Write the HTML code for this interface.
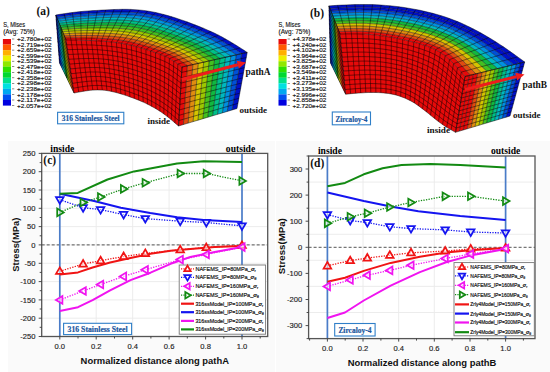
<!DOCTYPE html>
<html><head><meta charset="utf-8"><style>
html,body{margin:0;padding:0;background:#fff;width:550px;height:372px;overflow:hidden}
svg{display:block}
</style></head><body>
<svg width="550" height="372" viewBox="0 0 550 372">
<rect width="550" height="372" fill="#fff"/>
<polygon points="55.8,15 59.9,14.3 64.1,13.7 68.2,13.1 72.4,12.5 76.5,12 80.7,11.6 84.8,11.2 89,10.9 93.2,10.6 97.4,10.4 101.5,10.1 105.7,9.9 109.9,9.7 114.1,9.5 118.2,9.4 122.4,9.3 126.6,9.3 130.8,9.4 135,9.7 139.1,10 143.3,10.4 147.5,11 151.6,11.7 155.7,12.5 159.8,13.5 163.8,14.5 167.8,15.6 171.9,16.8 175.8,18 179.8,19.4 183.8,20.7 187.7,22.1 191.6,23.6 195.5,25.1 199.4,26.6 203.3,28.2 207.2,29.9 211,31.6 214.8,33.3 218.5,35.2 222.2,37.1 225.9,39.2 229.5,41.3 233.1,43.4 236.6,45.6 240.2,47.9 243.7,50.1 247.2,52.4 241.8,53.6 238.4,51.4 235,49.2 231.6,47 228.1,44.9 224.7,42.8 221.2,40.8 217.6,38.8 214,36.9 210.4,35.2 206.7,33.5 203,31.8 199.3,30.3 195.6,28.7 191.8,27.3 188,25.8 184.2,24.4 180.4,23.1 176.6,21.7 172.7,20.5 168.9,19.3 165,18.1 161.1,17.1 157.2,16.1 153.2,15.2 149.3,14.4 145.3,13.7 141.3,13.1 137.3,12.7 133.2,12.4 129.2,12.1 125.1,12 121.1,12 117.1,12 113,12.1 109,12.3 104.9,12.4 100.9,12.7 96.8,12.9 92.8,13.1 88.8,13.4 84.7,13.7 80.7,14 76.7,14.4 72.7,14.8 68.7,15.3 64.6,15.9 60.6,16.5 56.6,17.1" fill="#0010c8"/>
<polygon points="56.6,17.1 60.6,16.5 64.6,15.9 68.7,15.3 72.7,14.8 76.7,14.4 80.7,14 84.7,13.7 88.8,13.4 92.8,13.1 96.8,12.9 100.9,12.7 104.9,12.4 109,12.3 113,12.1 117.1,12 121.1,12 125.1,12 129.2,12.1 133.2,12.4 137.3,12.7 141.3,13.1 145.3,13.7 149.3,14.4 153.2,15.2 157.2,16.1 161.1,17.1 165,18.1 168.9,19.3 172.7,20.5 176.6,21.7 180.4,23.1 184.2,24.4 188,25.8 191.8,27.3 195.6,28.7 199.3,30.3 203,31.8 206.7,33.5 210.4,35.2 214,36.9 217.6,38.8 221.2,40.8 224.7,42.8 228.1,44.9 231.6,47 235,49.2 238.4,51.4 241.8,53.6 236.3,54.8 233.1,52.7 229.8,50.6 226.5,48.4 223.2,46.4 219.9,44.3 216.5,42.4 213,40.5 209.6,38.7 206.1,37 202.5,35.4 198.9,33.8 195.3,32.3 191.7,30.8 188.1,29.4 184.4,28 180.7,26.7 177.1,25.4 173.4,24.1 169.7,22.9 165.9,21.8 162.2,20.7 158.4,19.6 154.6,18.7 150.8,17.8 147,17.1 143.1,16.4 139.2,15.8 135.4,15.4 131.5,15.1 127.6,14.9 123.7,14.7 119.8,14.7 115.9,14.7 111.9,14.7 108,14.9 104.1,15 100.2,15.2 96.3,15.4 92.4,15.6 88.5,15.8 84.6,16.1 80.7,16.4 76.9,16.7 73,17.1 69.1,17.6 65.2,18.1 61.4,18.6 57.5,19.2" fill="#0050d8"/>
<polygon points="57.5,19.2 61.4,18.6 65.2,18.1 69.1,17.6 73,17.1 76.9,16.7 80.7,16.4 84.6,16.1 88.5,15.8 92.4,15.6 96.3,15.4 100.2,15.2 104.1,15 108,14.9 111.9,14.7 115.9,14.7 119.8,14.7 123.7,14.7 127.6,14.9 131.5,15.1 135.4,15.4 139.2,15.8 143.1,16.4 147,17.1 150.8,17.8 154.6,18.7 158.4,19.6 162.2,20.7 165.9,21.8 169.7,22.9 173.4,24.1 177.1,25.4 180.7,26.7 184.4,28 188.1,29.4 191.7,30.8 195.3,32.3 198.9,33.8 202.5,35.4 206.1,37 209.6,38.7 213,40.5 216.5,42.4 219.9,44.3 223.2,46.4 226.5,48.4 229.8,50.6 233.1,52.7 236.3,54.8 230.9,56 227.8,54 224.6,51.9 221.4,49.9 218.3,47.8 215,45.9 211.8,44 208.5,42.2 205.1,40.5 201.7,38.8 198.3,37.3 194.8,35.8 191.3,34.3 187.8,32.9 184.3,31.6 180.8,30.3 177.3,29 173.7,27.7 170.1,26.5 166.6,25.3 162.9,24.2 159.3,23.2 155.7,22.2 152,21.3 148.4,20.5 144.7,19.7 140.9,19.1 137.2,18.6 133.5,18.1 129.7,17.8 126,17.6 122.2,17.4 118.4,17.3 114.7,17.3 110.9,17.4 107.1,17.5 103.4,17.6 99.6,17.7 95.8,17.9 92.1,18.1 88.3,18.3 84.5,18.5 80.8,18.8 77,19.1 73.3,19.4 69.5,19.8 65.8,20.3 62.1,20.8 58.3,21.2" fill="#0090e0"/>
<polygon points="58.3,21.2 62.1,20.8 65.8,20.3 69.5,19.8 73.3,19.4 77,19.1 80.8,18.8 84.5,18.5 88.3,18.3 92.1,18.1 95.8,17.9 99.6,17.7 103.4,17.6 107.1,17.5 110.9,17.4 114.7,17.3 118.4,17.3 122.2,17.4 126,17.6 129.7,17.8 133.5,18.1 137.2,18.6 140.9,19.1 144.7,19.7 148.4,20.5 152,21.3 155.7,22.2 159.3,23.2 162.9,24.2 166.6,25.3 170.1,26.5 173.7,27.7 177.3,29 180.8,30.3 184.3,31.6 187.8,32.9 191.3,34.3 194.8,35.8 198.3,37.3 201.7,38.8 205.1,40.5 208.5,42.2 211.8,44 215,45.9 218.3,47.8 221.4,49.9 224.6,51.9 227.8,54 230.9,56 225.5,57.3 222.4,55.2 219.4,53.2 216.4,51.3 213.3,49.3 210.2,47.4 207.1,45.6 203.9,43.9 200.6,42.2 197.4,40.7 194.1,39.2 190.7,37.7 187.4,36.4 184,35 180.6,33.7 177.2,32.5 173.8,31.2 170.4,30 166.9,28.9 163.5,27.8 160,26.7 156.5,25.7 153,24.8 149.5,23.9 145.9,23.1 142.4,22.4 138.8,21.8 135.2,21.3 131.6,20.8 128,20.5 124.3,20.3 120.7,20.1 117.1,20 113.5,20 109.8,20 106.2,20.1 102.6,20.2 98.9,20.3 95.3,20.4 91.7,20.6 88.1,20.7 84.5,20.9 80.8,21.2 77.2,21.4 73.6,21.7 70,22.1 66.4,22.5 62.8,22.9 59.2,23.3" fill="#00b8c0"/>
<polygon points="59.2,23.3 62.8,22.9 66.4,22.5 70,22.1 73.6,21.7 77.2,21.4 80.8,21.2 84.5,20.9 88.1,20.7 91.7,20.6 95.3,20.4 98.9,20.3 102.6,20.2 106.2,20.1 109.8,20 113.5,20 117.1,20 120.7,20.1 124.3,20.3 128,20.5 131.6,20.8 135.2,21.3 138.8,21.8 142.4,22.4 145.9,23.1 149.5,23.9 153,24.8 156.5,25.7 160,26.7 163.5,27.8 166.9,28.9 170.4,30 173.8,31.2 177.2,32.5 180.6,33.7 184,35 187.4,36.4 190.7,37.7 194.1,39.2 197.4,40.7 200.6,42.2 203.9,43.9 207.1,45.6 210.2,47.4 213.3,49.3 216.4,51.3 219.4,53.2 222.4,55.2 225.5,57.3 220,58.5 217.1,56.5 214.2,54.6 211.3,52.7 208.4,50.8 205.4,49 202.4,47.2 199.3,45.6 196.2,44 193,42.5 189.8,41.1 186.6,39.7 183.4,38.4 180.1,37.1 176.9,35.9 173.6,34.7 170.3,33.5 167,32.4 163.7,31.3 160.4,30.2 157,29.2 153.7,28.2 150.3,27.3 146.9,26.5 143.5,25.7 140,25.1 136.6,24.5 133.1,24 129.7,23.6 126.2,23.2 122.7,23 119.2,22.8 115.7,22.7 112.3,22.7 108.8,22.6 105.3,22.7 101.8,22.7 98.3,22.8 94.8,22.9 91.3,23.1 87.8,23.2 84.4,23.3 80.9,23.5 77.4,23.8 73.9,24 70.4,24.3 67,24.7 63.5,25 60,25.4" fill="#00c088"/>
<polygon points="60,25.4 63.5,25 67,24.7 70.4,24.3 73.9,24 77.4,23.8 80.9,23.5 84.4,23.3 87.8,23.2 91.3,23.1 94.8,22.9 98.3,22.8 101.8,22.7 105.3,22.7 108.8,22.6 112.3,22.7 115.7,22.7 119.2,22.8 122.7,23 126.2,23.2 129.7,23.6 133.1,24 136.6,24.5 140,25.1 143.5,25.7 146.9,26.5 150.3,27.3 153.7,28.2 157,29.2 160.4,30.2 163.7,31.3 167,32.4 170.3,33.5 173.6,34.7 176.9,35.9 180.1,37.1 183.4,38.4 186.6,39.7 189.8,41.1 193,42.5 196.2,44 199.3,45.6 202.4,47.2 205.4,49 208.4,50.8 211.3,52.7 214.2,54.6 217.1,56.5 220,58.5 214.6,59.7 211.8,57.8 209.1,55.9 206.3,54.1 203.4,52.3 200.6,50.5 197.7,48.8 194.7,47.3 191.7,45.7 188.7,44.3 185.6,43 182.5,41.7 179.4,40.4 176.3,39.2 173.1,38.1 170,36.9 166.8,35.8 163.6,34.7 160.5,33.6 157.3,32.6 154,31.7 150.8,30.8 147.6,29.9 144.3,29.1 141,28.4 137.7,27.7 134.4,27.2 131.1,26.7 127.8,26.3 124.4,26 121.1,25.7 117.8,25.5 114.4,25.4 111.1,25.3 107.7,25.3 104.4,25.3 101,25.3 97.7,25.4 94.3,25.5 91,25.5 87.6,25.6 84.3,25.8 80.9,25.9 77.6,26.1 74.2,26.3 70.9,26.6 67.6,26.9 64.2,27.2 60.9,27.5" fill="#10b840"/>
<polygon points="60.9,27.5 64.2,27.2 67.6,26.9 70.9,26.6 74.2,26.3 77.6,26.1 80.9,25.9 84.3,25.8 87.6,25.6 91,25.5 94.3,25.5 97.7,25.4 101,25.3 104.4,25.3 107.7,25.3 111.1,25.3 114.4,25.4 117.8,25.5 121.1,25.7 124.4,26 127.8,26.3 131.1,26.7 134.4,27.2 137.7,27.7 141,28.4 144.3,29.1 147.6,29.9 150.8,30.8 154,31.7 157.3,32.6 160.5,33.6 163.6,34.7 166.8,35.8 170,36.9 173.1,38.1 176.3,39.2 179.4,40.4 182.5,41.7 185.6,43 188.7,44.3 191.7,45.7 194.7,47.3 197.7,48.8 200.6,50.5 203.4,52.3 206.3,54.1 209.1,55.9 211.8,57.8 214.6,59.7 209.2,60.9 206.5,59.1 203.9,57.3 201.2,55.5 198.5,53.7 195.7,52.1 193,50.5 190.1,48.9 187.2,47.5 184.3,46.2 181.4,44.9 178.4,43.7 175.4,42.5 172.4,41.3 169.4,40.2 166.4,39.1 163.3,38.1 160.3,37 157.2,36 154.2,35.1 151.1,34.2 148,33.3 144.9,32.5 141.7,31.7 138.6,31 135.4,30.4 132.3,29.9 129.1,29.4 125.9,29 122.7,28.7 119.5,28.4 116.3,28.2 113.1,28.1 109.9,28 106.6,27.9 103.4,27.9 100.2,27.9 97,27.9 93.8,28 90.6,28 87.4,28.1 84.2,28.2 81,28.3 77.7,28.5 74.5,28.6 71.3,28.8 68.1,29.1 64.9,29.3 61.8,29.6" fill="#44c020"/>
<polygon points="61.8,29.6 64.9,29.3 68.1,29.1 71.3,28.8 74.5,28.6 77.7,28.5 81,28.3 84.2,28.2 87.4,28.1 90.6,28 93.8,28 97,27.9 100.2,27.9 103.4,27.9 106.6,27.9 109.9,28 113.1,28.1 116.3,28.2 119.5,28.4 122.7,28.7 125.9,29 129.1,29.4 132.3,29.9 135.4,30.4 138.6,31 141.7,31.7 144.9,32.5 148,33.3 151.1,34.2 154.2,35.1 157.2,36 160.3,37 163.3,38.1 166.4,39.1 169.4,40.2 172.4,41.3 175.4,42.5 178.4,43.7 181.4,44.9 184.3,46.2 187.2,47.5 190.1,48.9 193,50.5 195.7,52.1 198.5,53.7 201.2,55.5 203.9,57.3 206.5,59.1 209.2,60.9 203.7,62.1 201.2,60.4 198.7,58.6 196.1,56.9 193.5,55.2 190.9,53.6 188.3,52.1 185.5,50.6 182.8,49.3 180,48 177.1,46.8 174.3,45.6 171.4,44.5 168.5,43.4 165.7,42.4 162.8,41.3 159.8,40.3 156.9,39.4 154,38.4 151.1,37.5 148.1,36.6 145.1,35.8 142.2,35 139.2,34.3 136.2,33.7 133.1,33.1 130.1,32.6 127.1,32.1 124,31.7 120.9,31.4 117.9,31.1 114.8,30.9 111.7,30.8 108.7,30.6 105.6,30.6 102.5,30.5 99.4,30.5 96.4,30.5 93.3,30.5 90.2,30.5 87.1,30.6 84.1,30.6 81,30.7 77.9,30.8 74.9,30.9 71.8,31.1 68.7,31.3 65.7,31.5 62.6,31.7" fill="#9cc800"/>
<polygon points="62.6,31.7 65.7,31.5 68.7,31.3 71.8,31.1 74.9,30.9 77.9,30.8 81,30.7 84.1,30.6 87.1,30.6 90.2,30.5 93.3,30.5 96.4,30.5 99.4,30.5 102.5,30.5 105.6,30.6 108.7,30.6 111.7,30.8 114.8,30.9 117.9,31.1 120.9,31.4 124,31.7 127.1,32.1 130.1,32.6 133.1,33.1 136.2,33.7 139.2,34.3 142.2,35 145.1,35.8 148.1,36.6 151.1,37.5 154,38.4 156.9,39.4 159.8,40.3 162.8,41.3 165.7,42.4 168.5,43.4 171.4,44.5 174.3,45.6 177.1,46.8 180,48 182.8,49.3 185.5,50.6 188.3,52.1 190.9,53.6 193.5,55.2 196.1,56.9 198.7,58.6 201.2,60.4 203.7,62.1 198.3,63.3 195.9,61.7 193.5,60 191.1,58.3 188.6,56.7 186.1,55.2 183.6,53.7 181,52.3 178.3,51 175.6,49.8 172.9,48.7 170.2,47.6 167.4,46.6 164.7,45.5 161.9,44.5 159.1,43.6 156.4,42.6 153.6,41.7 150.8,40.8 148,39.9 145.1,39.1 142.3,38.3 139.5,37.6 136.6,36.9 133.7,36.3 130.8,35.7 127.9,35.2 125,34.8 122.1,34.4 119.2,34.1 116.3,33.8 113.3,33.6 110.4,33.4 107.5,33.3 104.5,33.2 101.6,33.1 98.7,33.1 95.7,33 92.8,33 89.8,33 86.9,33 84,33 81,33.1 78.1,33.1 75.2,33.2 72.2,33.3 69.3,33.5 66.4,33.6 63.5,33.8" fill="#d4c400"/>
<polygon points="63.5,33.8 66.4,33.6 69.3,33.5 72.2,33.3 75.2,33.2 78.1,33.1 81,33.1 84,33 86.9,33 89.8,33 92.8,33 95.7,33 98.7,33.1 101.6,33.1 104.5,33.2 107.5,33.3 110.4,33.4 113.3,33.6 116.3,33.8 119.2,34.1 122.1,34.4 125,34.8 127.9,35.2 130.8,35.7 133.7,36.3 136.6,36.9 139.5,37.6 142.3,38.3 145.1,39.1 148,39.9 150.8,40.8 153.6,41.7 156.4,42.6 159.1,43.6 161.9,44.5 164.7,45.5 167.4,46.6 170.2,47.6 172.9,48.7 175.6,49.8 178.3,51 181,52.3 183.6,53.7 186.1,55.2 188.6,56.7 191.1,58.3 193.5,60 195.9,61.7 198.3,63.3 192.9,64.6 190.6,62.9 188.3,61.3 186,59.7 183.7,58.2 181.3,56.7 178.8,55.3 176.4,54 173.8,52.8 171.3,51.7 168.7,50.6 166.1,49.6 163.5,48.6 160.8,47.6 158.2,46.7 155.5,45.8 152.9,44.9 150.2,44 147.5,43.2 144.9,42.4 142.2,41.6 139.5,40.9 136.7,40.2 134,39.5 131.3,39 128.5,38.4 125.8,37.9 123,37.5 120.2,37.1 117.4,36.8 114.6,36.5 111.9,36.3 109.1,36.1 106.3,36 103.5,35.8 100.7,35.7 97.9,35.6 95.1,35.6 92.3,35.5 89.5,35.5 86.7,35.5 83.9,35.5 81.1,35.5 78.3,35.5 75.5,35.5 72.7,35.6 69.9,35.7 67.1,35.7 64.3,35.8" fill="#e08c10"/>
<polygon points="64.3,35.8 67.1,35.7 69.9,35.7 72.7,35.6 75.5,35.5 78.3,35.5 81.1,35.5 83.9,35.5 86.7,35.5 89.5,35.5 92.3,35.5 95.1,35.6 97.9,35.6 100.7,35.7 103.5,35.8 106.3,36 109.1,36.1 111.9,36.3 114.6,36.5 117.4,36.8 120.2,37.1 123,37.5 125.8,37.9 128.5,38.4 131.3,39 134,39.5 136.7,40.2 139.5,40.9 142.2,41.6 144.9,42.4 147.5,43.2 150.2,44 152.9,44.9 155.5,45.8 158.2,46.7 160.8,47.6 163.5,48.6 166.1,49.6 168.7,50.6 171.3,51.7 173.8,52.8 176.4,54 178.8,55.3 181.3,56.7 183.7,58.2 186,59.7 188.3,61.3 190.6,62.9 192.9,64.6 187.4,65.8 185.3,64.2 183.1,62.7 180.9,61.1 178.7,59.6 176.5,58.2 174.1,56.9 171.8,55.7 169.4,54.6 166.9,53.5 164.5,52.5 162,51.5 159.5,50.6 157,49.7 154.4,48.9 151.9,48 149.4,47.2 146.9,46.3 144.3,45.6 141.8,44.8 139.2,44.1 136.6,43.4 134,42.7 131.4,42.1 128.8,41.6 126.2,41.1 123.6,40.6 121,40.2 118.3,39.9 115.7,39.5 113,39.3 110.4,39 107.7,38.8 105.1,38.6 102.4,38.5 99.7,38.3 97.1,38.2 94.4,38.1 91.8,38 89.1,38 86.4,37.9 83.8,37.9 81.1,37.9 78.5,37.8 75.8,37.8 73.1,37.8 70.5,37.9 67.8,37.9 65.2,37.9" fill="#e04a10"/>
<polygon points="65.2,37.9 67.8,37.9 70.5,37.9 73.1,37.8 75.8,37.8 78.5,37.8 81.1,37.9 83.8,37.9 86.4,37.9 89.1,38 91.8,38 94.4,38.1 97.1,38.2 99.7,38.3 102.4,38.5 105.1,38.6 107.7,38.8 110.4,39 113,39.3 115.7,39.5 118.3,39.9 121,40.2 123.6,40.6 126.2,41.1 128.8,41.6 131.4,42.1 134,42.7 136.6,43.4 139.2,44.1 141.8,44.8 144.3,45.6 146.9,46.3 149.4,47.2 151.9,48 154.4,48.9 157,49.7 159.5,50.6 162,51.5 164.5,52.5 166.9,53.5 169.4,54.6 171.8,55.7 174.1,56.9 176.5,58.2 178.7,59.6 180.9,61.1 183.1,62.7 185.3,64.2 187.4,65.8 182,67 180,65.5 177.9,64 175.9,62.5 173.8,61.1 171.6,59.8 169.4,58.5 167.2,57.4 164.9,56.3 162.6,55.3 160.2,54.4 157.9,53.5 155.5,52.7 153.1,51.8 150.7,51 148.3,50.2 145.9,49.4 143.5,48.7 141.1,47.9 138.7,47.2 136.2,46.6 133.8,45.9 131.3,45.3 128.9,44.7 126.4,44.2 123.9,43.8 121.4,43.3 118.9,42.9 116.4,42.6 113.9,42.3 111.4,42 108.9,41.7 106.4,41.5 103.9,41.3 101.3,41.1 98.8,40.9 96.3,40.8 93.8,40.7 91.3,40.5 88.7,40.5 86.2,40.4 83.7,40.3 81.2,40.2 78.6,40.2 76.1,40.1 73.6,40.1 71.1,40.1 68.5,40 66,40" fill="#e60a0a"/>
<polygon points="66,40 68.5,40 71.1,40.1 73.6,40.1 76.1,40.1 78.6,40.2 81.2,40.2 83.7,40.3 86.2,40.4 88.7,40.5 91.3,40.5 93.8,40.7 96.3,40.8 98.8,40.9 101.3,41.1 103.9,41.3 106.4,41.5 108.9,41.7 111.4,42 113.9,42.3 116.4,42.6 118.9,42.9 121.4,43.3 123.9,43.8 126.4,44.2 128.9,44.7 131.3,45.3 133.8,45.9 136.2,46.6 138.7,47.2 141.1,47.9 143.5,48.7 145.9,49.4 148.3,50.2 150.7,51 153.1,51.8 155.5,52.7 157.9,53.5 160.2,54.4 162.6,55.3 164.9,56.3 167.2,57.4 169.4,58.5 171.6,59.8 173.8,61.1 175.9,62.5 177.9,64 180,65.5 182,67 178.5,126 176.7,124.4 174.9,122.9 173.1,121.3 171.3,119.8 169.5,118.3 167.6,116.8 165.7,115.3 163.8,113.9 161.9,112.5 159.9,111.2 157.9,109.9 155.9,108.7 153.8,107.5 151.7,106.4 149.6,105.2 147.5,104.2 145.4,103.1 143.2,102.1 141,101.2 138.8,100.2 136.6,99.4 134.4,98.5 132.2,97.7 129.9,96.9 127.7,96.1 125.4,95.3 123.2,94.6 120.9,93.9 118.6,93.2 116.3,92.6 114,92 111.7,91.5 109.4,91 107,90.6 104.7,90.3 102.3,90.1 99.9,90 97.6,89.9 95.2,90 92.8,90.1 90.4,90.3 88.1,90.6 85.7,90.9 83.4,91.3 81,91.7 78.7,92.1 76.3,92.6 74,93" fill="#e60a0a"/>
<polygon points="182,67 187.4,65.8 183.4,124.5 178.5,126" fill="#e60a0a"/>
<polygon points="187.4,65.8 192.9,64.6 188.2,123.1 183.4,124.5" fill="#e04a10"/>
<polygon points="192.9,64.6 198.3,63.3 193.1,121.6 188.2,123.1" fill="#e08c10"/>
<polygon points="198.3,63.3 203.7,62.1 198,120.2 193.1,121.6" fill="#d4c400"/>
<polygon points="203.7,62.1 209.2,60.9 202.9,118.7 198,120.2" fill="#9cc800"/>
<polygon points="209.2,60.9 214.6,59.7 207.8,117.2 202.9,118.7" fill="#44c020"/>
<polygon points="214.6,59.7 220,58.5 212.6,115.8 207.8,117.2" fill="#10b840"/>
<polygon points="220,58.5 225.5,57.3 217.5,114.3 212.6,115.8" fill="#00c088"/>
<polygon points="225.5,57.3 230.9,56 222.4,112.9 217.5,114.3" fill="#00b8c0"/>
<polygon points="230.9,56 236.3,54.8 227.2,111.4 222.4,112.9" fill="#0090e0"/>
<polygon points="236.3,54.8 241.8,53.6 232.1,110 227.2,111.4" fill="#0050d8"/>
<polygon points="241.8,53.6 247.2,52.4 237,108.5 232.1,110" fill="#0010c8"/>
<polygon points="66,40 55.8,15 59.5,63 74,93" fill="#101010"/>
<polygon points="66,40 65.2,37.9 72.8,90.5 74,93" fill="#e60a0a" opacity="1"/>
<polygon points="65.2,37.9 64.3,35.8 71.6,88 72.8,90.5" fill="#e04a10" opacity="1"/>
<polygon points="64.3,35.8 63.5,33.8 70.4,85.5 71.6,88" fill="#e08c10" opacity="1"/>
<polygon points="63.5,33.8 62.6,31.7 69.2,83 70.4,85.5" fill="#d4c400" opacity="1"/>
<polygon points="62.6,31.7 61.7,29.6 68,80.5 69.2,83" fill="#9cc800" opacity="1"/>
<polygon points="61.7,29.6 60.9,27.5 66.8,78 68,80.5" fill="#44c020" opacity="1"/>
<polygon points="60.9,27.5 60,25.4 65.5,75.5 66.8,78" fill="#10b840" opacity="1"/>
<polygon points="60,25.4 59.2,23.3 64.3,73 65.5,75.5" fill="#00c088" opacity="1"/>
<polygon points="59.2,23.3 58.3,21.2 63.1,70.5 64.3,73" fill="#00b8c0" opacity="1"/>
<polygon points="58.3,21.2 57.5,19.2 61.9,68 63.1,70.5" fill="#0090e0" opacity="1"/>
<polygon points="57.5,19.2 56.6,17.1 60.7,65.5 61.9,68" fill="#0050d8" opacity="1"/>
<polygon points="56.6,17.1 55.8,15 59.5,63 60.7,65.5" fill="#0010c8" opacity="1"/>
<path d="M55.8,15 L59.9,14.3 L64.1,13.7 L68.2,13.1 L72.4,12.5 L76.5,12 L80.7,11.6 L84.8,11.2 L89,10.9 L93.2,10.6 L97.4,10.4 L101.5,10.1 L105.7,9.9 L109.9,9.7 L114.1,9.5 L118.2,9.4 L122.4,9.3 L126.6,9.3 L130.8,9.4 L135,9.7 L139.1,10 L143.3,10.4 L147.5,11 L151.6,11.7 L155.7,12.5 L159.8,13.5 L163.8,14.5 L167.8,15.6 L171.9,16.8 L175.8,18 L179.8,19.4 L183.8,20.7 L187.7,22.1 L191.6,23.6 L195.5,25.1 L199.4,26.6 L203.3,28.2 L207.2,29.9 L211,31.6 L214.8,33.3 L218.5,35.2 L222.2,37.1 L225.9,39.2 L229.5,41.3 L233.1,43.4 L236.6,45.6 L240.2,47.9 L243.7,50.1 L247.2,52.4 M56.6,17.1 L60.6,16.5 L64.6,15.9 L68.7,15.3 L72.7,14.8 L76.7,14.4 L80.7,14 L84.7,13.7 L88.8,13.4 L92.8,13.1 L96.8,12.9 L100.9,12.7 L104.9,12.4 L109,12.3 L113,12.1 L117.1,12 L121.1,12 L125.1,12 L129.2,12.1 L133.2,12.4 L137.3,12.7 L141.3,13.1 L145.3,13.7 L149.3,14.4 L153.2,15.2 L157.2,16.1 L161.1,17.1 L165,18.1 L168.9,19.3 L172.7,20.5 L176.6,21.7 L180.4,23.1 L184.2,24.4 L188,25.8 L191.8,27.3 L195.6,28.7 L199.3,30.3 L203,31.8 L206.7,33.5 L210.4,35.2 L214,36.9 L217.6,38.8 L221.2,40.8 L224.7,42.8 L228.1,44.9 L231.6,47 L235,49.2 L238.4,51.4 L241.8,53.6 M57.5,19.2 L61.4,18.6 L65.2,18.1 L69.1,17.6 L73,17.1 L76.9,16.7 L80.7,16.4 L84.6,16.1 L88.5,15.8 L92.4,15.6 L96.3,15.4 L100.2,15.2 L104.1,15 L108,14.9 L111.9,14.7 L115.9,14.7 L119.8,14.7 L123.7,14.7 L127.6,14.9 L131.5,15.1 L135.4,15.4 L139.2,15.8 L143.1,16.4 L147,17.1 L150.8,17.8 L154.6,18.7 L158.4,19.6 L162.2,20.7 L165.9,21.8 L169.7,22.9 L173.4,24.1 L177.1,25.4 L180.7,26.7 L184.4,28 L188.1,29.4 L191.7,30.8 L195.3,32.3 L198.9,33.8 L202.5,35.4 L206.1,37 L209.6,38.7 L213,40.5 L216.5,42.4 L219.9,44.3 L223.2,46.4 L226.5,48.4 L229.8,50.6 L233.1,52.7 L236.3,54.8 M58.3,21.2 L62.1,20.8 L65.8,20.3 L69.5,19.8 L73.3,19.4 L77,19.1 L80.8,18.8 L84.5,18.5 L88.3,18.3 L92.1,18.1 L95.8,17.9 L99.6,17.7 L103.4,17.6 L107.1,17.5 L110.9,17.4 L114.7,17.3 L118.4,17.3 L122.2,17.4 L126,17.6 L129.7,17.8 L133.5,18.1 L137.2,18.6 L140.9,19.1 L144.7,19.7 L148.4,20.5 L152,21.3 L155.7,22.2 L159.3,23.2 L162.9,24.2 L166.6,25.3 L170.1,26.5 L173.7,27.7 L177.3,29 L180.8,30.3 L184.3,31.6 L187.8,32.9 L191.3,34.3 L194.8,35.8 L198.3,37.3 L201.7,38.8 L205.1,40.5 L208.5,42.2 L211.8,44 L215,45.9 L218.3,47.8 L221.4,49.9 L224.6,51.9 L227.8,54 L230.9,56 M59.2,23.3 L62.8,22.9 L66.4,22.5 L70,22.1 L73.6,21.7 L77.2,21.4 L80.8,21.2 L84.5,20.9 L88.1,20.7 L91.7,20.6 L95.3,20.4 L98.9,20.3 L102.6,20.2 L106.2,20.1 L109.8,20 L113.5,20 L117.1,20 L120.7,20.1 L124.3,20.3 L128,20.5 L131.6,20.8 L135.2,21.3 L138.8,21.8 L142.4,22.4 L145.9,23.1 L149.5,23.9 L153,24.8 L156.5,25.7 L160,26.7 L163.5,27.8 L166.9,28.9 L170.4,30 L173.8,31.2 L177.2,32.5 L180.6,33.7 L184,35 L187.4,36.4 L190.7,37.7 L194.1,39.2 L197.4,40.7 L200.6,42.2 L203.9,43.9 L207.1,45.6 L210.2,47.4 L213.3,49.3 L216.4,51.3 L219.4,53.2 L222.4,55.2 L225.5,57.3 M60,25.4 L63.5,25 L67,24.7 L70.4,24.3 L73.9,24 L77.4,23.8 L80.9,23.5 L84.4,23.3 L87.8,23.2 L91.3,23.1 L94.8,22.9 L98.3,22.8 L101.8,22.7 L105.3,22.7 L108.8,22.6 L112.3,22.7 L115.7,22.7 L119.2,22.8 L122.7,23 L126.2,23.2 L129.7,23.6 L133.1,24 L136.6,24.5 L140,25.1 L143.5,25.7 L146.9,26.5 L150.3,27.3 L153.7,28.2 L157,29.2 L160.4,30.2 L163.7,31.3 L167,32.4 L170.3,33.5 L173.6,34.7 L176.9,35.9 L180.1,37.1 L183.4,38.4 L186.6,39.7 L189.8,41.1 L193,42.5 L196.2,44 L199.3,45.6 L202.4,47.2 L205.4,49 L208.4,50.8 L211.3,52.7 L214.2,54.6 L217.1,56.5 L220,58.5 M60.9,27.5 L64.2,27.2 L67.6,26.9 L70.9,26.6 L74.2,26.3 L77.6,26.1 L80.9,25.9 L84.3,25.8 L87.6,25.6 L91,25.5 L94.3,25.5 L97.7,25.4 L101,25.3 L104.4,25.3 L107.7,25.3 L111.1,25.3 L114.4,25.4 L117.8,25.5 L121.1,25.7 L124.4,26 L127.8,26.3 L131.1,26.7 L134.4,27.2 L137.7,27.7 L141,28.4 L144.3,29.1 L147.6,29.9 L150.8,30.8 L154,31.7 L157.3,32.6 L160.5,33.6 L163.6,34.7 L166.8,35.8 L170,36.9 L173.1,38.1 L176.3,39.2 L179.4,40.4 L182.5,41.7 L185.6,43 L188.7,44.3 L191.7,45.7 L194.7,47.3 L197.7,48.8 L200.6,50.5 L203.4,52.3 L206.3,54.1 L209.1,55.9 L211.8,57.8 L214.6,59.7 M61.8,29.6 L64.9,29.3 L68.1,29.1 L71.3,28.8 L74.5,28.6 L77.7,28.5 L81,28.3 L84.2,28.2 L87.4,28.1 L90.6,28 L93.8,28 L97,27.9 L100.2,27.9 L103.4,27.9 L106.6,27.9 L109.9,28 L113.1,28.1 L116.3,28.2 L119.5,28.4 L122.7,28.7 L125.9,29 L129.1,29.4 L132.3,29.9 L135.4,30.4 L138.6,31 L141.7,31.7 L144.9,32.5 L148,33.3 L151.1,34.2 L154.2,35.1 L157.2,36 L160.3,37 L163.3,38.1 L166.4,39.1 L169.4,40.2 L172.4,41.3 L175.4,42.5 L178.4,43.7 L181.4,44.9 L184.3,46.2 L187.2,47.5 L190.1,48.9 L193,50.5 L195.7,52.1 L198.5,53.7 L201.2,55.5 L203.9,57.3 L206.5,59.1 L209.2,60.9 M62.6,31.7 L65.7,31.5 L68.7,31.3 L71.8,31.1 L74.9,30.9 L77.9,30.8 L81,30.7 L84.1,30.6 L87.1,30.6 L90.2,30.5 L93.3,30.5 L96.4,30.5 L99.4,30.5 L102.5,30.5 L105.6,30.6 L108.7,30.6 L111.7,30.8 L114.8,30.9 L117.9,31.1 L120.9,31.4 L124,31.7 L127.1,32.1 L130.1,32.6 L133.1,33.1 L136.2,33.7 L139.2,34.3 L142.2,35 L145.1,35.8 L148.1,36.6 L151.1,37.5 L154,38.4 L156.9,39.4 L159.8,40.3 L162.8,41.3 L165.7,42.4 L168.5,43.4 L171.4,44.5 L174.3,45.6 L177.1,46.8 L180,48 L182.8,49.3 L185.5,50.6 L188.3,52.1 L190.9,53.6 L193.5,55.2 L196.1,56.9 L198.7,58.6 L201.2,60.4 L203.7,62.1 M63.5,33.8 L66.4,33.6 L69.3,33.5 L72.2,33.3 L75.2,33.2 L78.1,33.1 L81,33.1 L84,33 L86.9,33 L89.8,33 L92.8,33 L95.7,33 L98.7,33.1 L101.6,33.1 L104.5,33.2 L107.5,33.3 L110.4,33.4 L113.3,33.6 L116.3,33.8 L119.2,34.1 L122.1,34.4 L125,34.8 L127.9,35.2 L130.8,35.7 L133.7,36.3 L136.6,36.9 L139.5,37.6 L142.3,38.3 L145.1,39.1 L148,39.9 L150.8,40.8 L153.6,41.7 L156.4,42.6 L159.1,43.6 L161.9,44.5 L164.7,45.5 L167.4,46.6 L170.2,47.6 L172.9,48.7 L175.6,49.8 L178.3,51 L181,52.3 L183.6,53.7 L186.1,55.2 L188.6,56.7 L191.1,58.3 L193.5,60 L195.9,61.7 L198.3,63.3 M64.3,35.8 L67.1,35.7 L69.9,35.7 L72.7,35.6 L75.5,35.5 L78.3,35.5 L81.1,35.5 L83.9,35.5 L86.7,35.5 L89.5,35.5 L92.3,35.5 L95.1,35.6 L97.9,35.6 L100.7,35.7 L103.5,35.8 L106.3,36 L109.1,36.1 L111.9,36.3 L114.6,36.5 L117.4,36.8 L120.2,37.1 L123,37.5 L125.8,37.9 L128.5,38.4 L131.3,39 L134,39.5 L136.7,40.2 L139.5,40.9 L142.2,41.6 L144.9,42.4 L147.5,43.2 L150.2,44 L152.9,44.9 L155.5,45.8 L158.2,46.7 L160.8,47.6 L163.5,48.6 L166.1,49.6 L168.7,50.6 L171.3,51.7 L173.8,52.8 L176.4,54 L178.8,55.3 L181.3,56.7 L183.7,58.2 L186,59.7 L188.3,61.3 L190.6,62.9 L192.9,64.6 M65.2,37.9 L67.8,37.9 L70.5,37.9 L73.1,37.8 L75.8,37.8 L78.5,37.8 L81.1,37.9 L83.8,37.9 L86.4,37.9 L89.1,38 L91.8,38 L94.4,38.1 L97.1,38.2 L99.7,38.3 L102.4,38.5 L105.1,38.6 L107.7,38.8 L110.4,39 L113,39.3 L115.7,39.5 L118.3,39.9 L121,40.2 L123.6,40.6 L126.2,41.1 L128.8,41.6 L131.4,42.1 L134,42.7 L136.6,43.4 L139.2,44.1 L141.8,44.8 L144.3,45.6 L146.9,46.3 L149.4,47.2 L151.9,48 L154.4,48.9 L157,49.7 L159.5,50.6 L162,51.5 L164.5,52.5 L166.9,53.5 L169.4,54.6 L171.8,55.7 L174.1,56.9 L176.5,58.2 L178.7,59.6 L180.9,61.1 L183.1,62.7 L185.3,64.2 L187.4,65.8 M66,40 L68.5,40 L71.1,40.1 L73.6,40.1 L76.1,40.1 L78.6,40.2 L81.2,40.2 L83.7,40.3 L86.2,40.4 L88.7,40.5 L91.3,40.5 L93.8,40.7 L96.3,40.8 L98.8,40.9 L101.3,41.1 L103.9,41.3 L106.4,41.5 L108.9,41.7 L111.4,42 L113.9,42.3 L116.4,42.6 L118.9,42.9 L121.4,43.3 L123.9,43.8 L126.4,44.2 L128.9,44.7 L131.3,45.3 L133.8,45.9 L136.2,46.6 L138.7,47.2 L141.1,47.9 L143.5,48.7 L145.9,49.4 L148.3,50.2 L150.7,51 L153.1,51.8 L155.5,52.7 L157.9,53.5 L160.2,54.4 L162.6,55.3 L164.9,56.3 L167.2,57.4 L169.4,58.5 L171.6,59.8 L173.8,61.1 L175.9,62.5 L177.9,64 L180,65.5 L182,67 M55.8,15 L66,40 M64.1,13.7 L71.1,40.1 M72.4,12.5 L76.1,40.1 M80.7,11.6 L81.2,40.2 M89,10.9 L86.2,40.4 M97.4,10.4 L91.3,40.5 M105.7,9.9 L96.3,40.8 M114.1,9.5 L101.3,41.1 M122.4,9.3 L106.4,41.5 M130.8,9.4 L111.4,42 M139.1,10 L116.4,42.6 M147.5,11 L121.4,43.3 M155.7,12.5 L126.4,44.2 M163.8,14.5 L131.3,45.3 M171.9,16.8 L136.2,46.6 M179.8,19.4 L141.1,47.9 M187.7,22.1 L145.9,49.4 M195.5,25.1 L150.7,51 M203.3,28.2 L155.5,52.7 M211,31.6 L160.2,54.4 M218.5,35.2 L164.9,56.3 M225.9,39.2 L169.4,58.5 M233.1,43.4 L173.8,61.1 M240.2,47.9 L177.9,64 M247.2,52.4 L182,67" fill="none" stroke="#000" stroke-opacity="0.6" stroke-width="0.76"/>
<path d="M66.7,44.8 L69.2,44.8 L71.7,44.8 L74.3,44.8 L76.8,44.8 L79.3,44.8 L81.8,44.8 L84.3,44.8 L86.8,44.9 L89.3,45 L91.8,45 L94.3,45.1 L96.8,45.3 L99.4,45.4 L101.9,45.6 L104.4,45.8 L106.9,46 L109.4,46.3 L111.9,46.6 L114.3,46.9 L116.8,47.2 L119.3,47.6 L121.8,48.1 L124.3,48.5 L126.7,49 L129.2,49.6 L131.6,50.1 L134,50.8 L136.5,51.4 L138.9,52.1 L141.3,52.9 L143.7,53.6 L146.1,54.4 L148.4,55.2 L150.8,56.1 L153.2,56.9 L155.5,57.8 L157.9,58.6 L160.2,59.6 L162.5,60.5 L164.8,61.5 L167.1,62.6 L169.3,63.8 L171.4,65.1 L173.6,66.5 L175.6,67.9 L177.7,69.3 L179.7,70.8 L181.7,72.4 M67.5,49.6 L69.9,49.6 L72.4,49.5 L74.9,49.5 L77.4,49.4 L79.9,49.4 L82.4,49.4 L84.9,49.4 L87.4,49.4 L89.9,49.5 L92.4,49.5 L94.9,49.6 L97.4,49.7 L99.9,49.9 L102.4,50.1 L104.9,50.3 L107.4,50.6 L109.8,50.9 L112.3,51.2 L114.8,51.5 L117.2,51.9 L119.7,52.3 L122.2,52.8 L124.6,53.3 L127,53.8 L129.5,54.4 L131.9,55 L134.3,55.6 L136.7,56.3 L139.1,57 L141.5,57.8 L143.8,58.6 L146.2,59.4 L148.6,60.2 L150.9,61.1 L153.2,62 L155.6,62.9 L157.9,63.8 L160.2,64.7 L162.5,65.7 L164.7,66.8 L166.9,67.9 L169.1,69.1 L171.2,70.4 L173.3,71.8 L175.4,73.2 L177.4,74.7 L179.4,76.2 L181.4,77.7 M68.2,54.5 L70.7,54.4 L73.1,54.3 L75.6,54.2 L78.1,54.1 L80.6,54 L83,54 L85.5,53.9 L88,53.9 L90.5,54 L93,54 L95.5,54.1 L97.9,54.2 L100.4,54.4 L102.9,54.6 L105.4,54.8 L107.8,55.1 L110.3,55.4 L112.8,55.8 L115.2,56.2 L117.7,56.6 L120.1,57 L122.5,57.5 L124.9,58 L127.4,58.6 L129.8,59.2 L132.2,59.8 L134.6,60.5 L136.9,61.2 L139.3,61.9 L141.7,62.7 L144,63.5 L146.3,64.4 L148.7,65.2 L151,66.1 L153.3,67 L155.6,67.9 L157.9,68.9 L160.1,69.9 L162.4,70.9 L164.6,72 L166.8,73.2 L168.9,74.4 L171.1,75.7 L173.1,77.1 L175.1,78.6 L177.1,80.1 L179.1,81.6 L181,83.1 M68.9,59.3 L71.4,59.1 L73.8,59 L76.3,58.9 L78.7,58.7 L81.2,58.6 L83.7,58.6 L86.1,58.5 L88.6,58.5 L91.1,58.5 L93.5,58.5 L96,58.6 L98.5,58.7 L101,58.9 L103.4,59.1 L105.9,59.4 L108.3,59.7 L110.8,60 L113.2,60.4 L115.6,60.8 L118.1,61.2 L120.5,61.7 L122.9,62.2 L125.3,62.8 L127.7,63.4 L130.1,64 L132.5,64.6 L134.8,65.3 L137.2,66.1 L139.5,66.8 L141.9,67.6 L144.2,68.5 L146.5,69.3 L148.8,70.2 L151.1,71.1 L153.4,72.1 L155.6,73 L157.9,74 L160.1,75.1 L162.3,76.1 L164.5,77.3 L166.7,78.4 L168.8,79.7 L170.9,81 L172.9,82.4 L174.9,83.9 L176.8,85.4 L178.8,86.9 L180.7,88.5 M69.6,64.1 L72.1,63.9 L74.5,63.7 L77,63.5 L79.4,63.4 L81.8,63.2 L84.3,63.1 L86.7,63 L89.2,63 L91.7,63 L94.1,63 L96.6,63.1 L99,63.2 L101.5,63.4 L103.9,63.6 L106.4,63.9 L108.8,64.2 L111.2,64.6 L113.6,65 L116.1,65.4 L118.5,65.9 L120.9,66.4 L123.3,67 L125.6,67.5 L128,68.2 L130.4,68.8 L132.7,69.5 L135.1,70.2 L137.4,71 L139.7,71.7 L142,72.6 L144.3,73.4 L146.6,74.3 L148.9,75.2 L151.2,76.2 L153.4,77.1 L155.7,78.1 L157.9,79.2 L160.1,80.2 L162.3,81.3 L164.4,82.5 L166.5,83.7 L168.6,85 L170.7,86.4 L172.7,87.8 L174.6,89.2 L176.6,90.8 L178.5,92.3 L180.4,93.8 M70.4,68.9 L72.8,68.7 L75.2,68.5 L77.6,68.2 L80.1,68 L82.5,67.9 L84.9,67.7 L87.4,67.6 L89.8,67.5 L92.2,67.5 L94.7,67.5 L97.1,67.5 L99.6,67.7 L102,67.9 L104.4,68.1 L106.9,68.4 L109.3,68.7 L111.7,69.1 L114.1,69.6 L116.5,70 L118.9,70.6 L121.2,71.1 L123.6,71.7 L126,72.3 L128.3,72.9 L130.7,73.6 L133,74.3 L135.3,75.1 L137.6,75.8 L140,76.7 L142.2,77.5 L144.5,78.4 L146.8,79.3 L149,80.2 L151.3,81.2 L153.5,82.2 L155.7,83.2 L157.9,84.3 L160.1,85.4 L162.2,86.5 L164.3,87.7 L166.4,89 L168.5,90.3 L170.5,91.7 L172.4,93.1 L174.4,94.6 L176.3,96.1 L178.2,97.6 L180.1,99.2 M71.1,73.7 L73.5,73.5 L75.9,73.2 L78.3,72.9 L80.7,72.7 L83.1,72.5 L85.6,72.3 L88,72.1 L90.4,72 L92.8,72 L95.3,72 L97.7,72 L100.1,72.2 L102.5,72.3 L105,72.6 L107.4,72.9 L109.8,73.3 L112.2,73.7 L114.5,74.2 L116.9,74.7 L119.3,75.2 L121.6,75.8 L124,76.4 L126.3,77.1 L128.7,77.7 L131,78.4 L133.3,79.2 L135.6,79.9 L137.9,80.7 L140.2,81.6 L142.4,82.4 L144.7,83.3 L146.9,84.3 L149.1,85.2 L151.4,86.2 L153.6,87.3 L155.7,88.3 L157.9,89.4 L160,90.5 L162.1,91.7 L164.2,93 L166.3,94.2 L168.3,95.6 L170.3,97 L172.2,98.4 L174.1,99.9 L176,101.5 L177.9,103 L179.8,104.5 M71.8,78.5 L74.2,78.2 L76.6,77.9 L79,77.6 L81.4,77.3 L83.8,77.1 L86.2,76.9 L88.6,76.7 L91,76.6 L93.4,76.5 L95.8,76.5 L98.3,76.5 L100.7,76.6 L103.1,76.8 L105.5,77.1 L107.9,77.4 L110.3,77.8 L112.6,78.3 L115,78.8 L117.3,79.3 L119.7,79.9 L122,80.5 L124.3,81.1 L126.7,81.8 L129,82.5 L131.3,83.2 L133.6,84 L135.9,84.8 L138.1,85.6 L140.4,86.5 L142.6,87.4 L144.9,88.3 L147.1,89.2 L149.3,90.2 L151.4,91.3 L153.6,92.3 L155.8,93.4 L157.9,94.5 L160,95.7 L162.1,96.9 L164.1,98.2 L166.1,99.5 L168.1,100.9 L170.1,102.3 L172,103.8 L173.9,105.3 L175.7,106.8 L177.6,108.4 L179.5,109.9 M72.5,83.4 L74.9,83 L77.3,82.6 L79.7,82.3 L82,82 L84.4,81.7 L86.8,81.4 L89.2,81.2 L91.6,81.1 L94,81 L96.4,80.9 L98.8,81 L101.2,81.1 L103.6,81.3 L106,81.6 L108.4,82 L110.7,82.4 L113.1,82.9 L115.4,83.4 L117.8,83.9 L120.1,84.5 L122.4,85.2 L124.7,85.9 L127,86.6 L129.3,87.3 L131.6,88 L133.9,88.8 L136.1,89.6 L138.4,90.5 L140.6,91.4 L142.8,92.3 L145,93.2 L147.2,94.2 L149.4,95.2 L151.5,96.3 L153.7,97.4 L155.8,98.5 L157.9,99.7 L160,100.9 L162,102.1 L164,103.4 L166,104.8 L168,106.2 L169.9,107.6 L171.8,109.1 L173.6,110.6 L175.5,112.2 L177.3,113.7 L179.1,115.3 M73.3,88.2 L75.6,87.8 L78,87.4 L80.3,87 L82.7,86.6 L85.1,86.3 L87.4,86 L89.8,85.8 L92.2,85.6 L94.6,85.5 L97,85.4 L99.4,85.5 L101.8,85.6 L104.1,85.8 L106.5,86.1 L108.9,86.5 L111.2,86.9 L113.6,87.4 L115.9,88 L118.2,88.6 L120.5,89.2 L122.8,89.9 L125.1,90.6 L127.4,91.3 L129.6,92.1 L131.9,92.8 L134.1,93.7 L136.4,94.5 L138.6,95.4 L140.8,96.3 L143,97.2 L145.2,98.2 L147.4,99.2 L149.5,100.2 L151.6,101.3 L153.7,102.4 L155.8,103.6 L157.9,104.8 L159.9,106 L161.9,107.3 L163.9,108.7 L165.9,110 L167.8,111.5 L169.7,112.9 L171.5,114.4 L173.4,116 L175.2,117.5 L177,119.1 L178.8,120.6 M74,93 L76.3,92.6 L78.7,92.1 L81,91.7 L83.4,91.3 L85.7,90.9 L88.1,90.6 L90.4,90.3 L92.8,90.1 L95.2,90 L97.6,89.9 L99.9,90 L102.3,90.1 L104.7,90.3 L107,90.6 L109.4,91 L111.7,91.5 L114,92 L116.3,92.6 L118.6,93.2 L120.9,93.9 L123.2,94.6 L125.4,95.3 L127.7,96.1 L129.9,96.9 L132.2,97.7 L134.4,98.5 L136.6,99.4 L138.8,100.2 L141,101.2 L143.2,102.1 L145.4,103.1 L147.5,104.2 L149.6,105.2 L151.7,106.4 L153.8,107.5 L155.9,108.7 L157.9,109.9 L159.9,111.2 L161.9,112.5 L163.8,113.9 L165.7,115.3 L167.6,116.8 L169.5,118.3 L171.3,119.8 L173.1,121.3 L174.9,122.9 L176.7,124.4 L178.5,126 M66,40 L74,93 M71.1,40.1 L78.7,92.1 M76.1,40.1 L83.4,91.3 M81.2,40.2 L88.1,90.6 M86.2,40.4 L92.8,90.1 M91.3,40.5 L97.6,89.9 M96.3,40.8 L102.3,90.1 M101.3,41.1 L107,90.6 M106.4,41.5 L111.7,91.5 M111.4,42 L116.3,92.6 M116.4,42.6 L120.9,93.9 M121.4,43.3 L125.4,95.3 M126.4,44.2 L129.9,96.9 M131.3,45.3 L134.4,98.5 M136.2,46.6 L138.8,100.2 M141.1,47.9 L143.2,102.1 M145.9,49.4 L147.5,104.2 M150.7,51 L151.7,106.4 M155.5,52.7 L155.9,108.7 M160.2,54.4 L159.9,111.2 M164.9,56.3 L163.8,113.9 M169.4,58.5 L167.6,116.8 M173.8,61.1 L171.3,119.8 M177.9,64 L174.9,122.9 M182,67 L178.5,126 M182,67 L178.5,126 M187.4,65.8 L183.4,124.5 M192.9,64.6 L188.2,123.1 M198.3,63.3 L193.1,121.6 M203.7,62.1 L198,120.2 M209.2,60.9 L202.9,118.7 M214.6,59.7 L207.8,117.2 M220,58.5 L212.6,115.8 M225.5,57.3 L217.5,114.3 M230.9,56 L222.4,112.9 M236.3,54.8 L227.2,111.4 M241.8,53.6 L232.1,110 M247.2,52.4 L237,108.5 M182,67 L247.2,52.4 M181.7,72.4 L246.3,57.5 M181.4,77.7 L245.3,62.6 M181,83.1 L244.4,67.7 M180.7,88.5 L243.5,72.8 M180.4,93.8 L242.6,77.9 M180.1,99.2 L241.6,83 M179.8,104.5 L240.7,88.1 M179.5,109.9 L239.8,93.2 M179.1,115.3 L238.9,98.3 M178.8,120.6 L237.9,103.4 M178.5,126 L237,108.5 M60.9,27.5 L66.8,78 M55.8,15 L59.5,63 M66,40 L55.8,15 M66.7,44.8 L56.1,19.4 M67.5,49.6 L56.5,23.7 M68.2,54.5 L56.8,28.1 M68.9,59.3 L57.1,32.5 M69.6,64.1 L57.5,36.8 M70.4,68.9 L57.8,41.2 M71.1,73.7 L58.2,45.5 M71.8,78.5 L58.5,49.9 M72.5,83.4 L58.8,54.3 M73.3,88.2 L59.2,58.6 M74,93 L59.5,63" fill="none" stroke="#000" stroke-opacity="0.55" stroke-width="0.855"/>
<polygon points="328.9,5.9 333.3,5.6 337.6,5.3 342,5.1 346.3,4.9 350.7,4.7 355,4.6 359.4,4.5 363.8,4.5 368.1,4.5 372.5,4.6 376.8,4.8 381.2,5.1 385.5,5.4 389.9,5.8 394.2,6.2 398.6,6.7 402.9,7.3 407.2,8 411.5,8.7 415.8,9.5 420.1,10.3 424.3,11.3 428.6,12.3 432.8,13.3 437,14.5 441.2,15.7 445.3,17 449.5,18.5 453.5,20 457.6,21.6 461.6,23.3 465.6,25.2 469.5,27 473.4,29 477.3,31 481.1,33.1 484.9,35.3 488.7,37.5 492.4,39.7 496.1,42.1 499.7,44.4 503.4,46.8 507,49.3 510.5,51.8 514.1,54.3 517.6,56.9 521.2,59.4 524.7,62 519.3,63.3 515.9,60.8 512.5,58.3 509.1,55.8 505.7,53.3 502.3,50.8 498.8,48.4 495.4,46 491.8,43.7 488.3,41.4 484.7,39.1 481.1,37 477.4,34.9 473.7,32.8 470,30.9 466.2,29 462.4,27.2 458.5,25.4 454.6,23.8 450.7,22.2 446.7,20.8 442.7,19.4 438.7,18.1 434.6,16.9 430.6,15.8 426.5,14.8 422.4,13.8 418.2,12.9 414.1,12.1 409.9,11.3 405.8,10.6 401.6,10 397.4,9.4 393.2,8.9 389,8.5 384.8,8.1 380.6,7.8 376.4,7.5 372.1,7.3 367.9,7.2 363.7,7.2 359.5,7.2 355.2,7.2 351,7.3 346.8,7.5 342.6,7.7 338.3,7.9 334.1,8.2 329.9,8.5" fill="#0010c8"/>
<polygon points="329.9,8.5 334.1,8.2 338.3,7.9 342.6,7.7 346.8,7.5 351,7.3 355.2,7.2 359.5,7.2 363.7,7.2 367.9,7.2 372.1,7.3 376.4,7.5 380.6,7.8 384.8,8.1 389,8.5 393.2,8.9 397.4,9.4 401.6,10 405.8,10.6 409.9,11.3 414.1,12.1 418.2,12.9 422.4,13.8 426.5,14.8 430.6,15.8 434.6,16.9 438.7,18.1 442.7,19.4 446.7,20.8 450.7,22.2 454.6,23.8 458.5,25.4 462.4,27.2 466.2,29 470,30.9 473.7,32.8 477.4,34.9 481.1,37 484.7,39.1 488.3,41.4 491.8,43.7 495.4,46 498.8,48.4 502.3,50.8 505.7,53.3 509.1,55.8 512.5,58.3 515.9,60.8 519.3,63.3 513.8,64.6 510.6,62.1 507.4,59.7 504.1,57.2 500.9,54.7 497.6,52.3 494.3,49.9 491,47.5 487.6,45.2 484.2,43 480.7,40.8 477.3,38.7 473.7,36.6 470.1,34.7 466.5,32.8 462.8,30.9 459.1,29.2 455.4,27.5 451.6,26 447.8,24.5 444,23.1 440.1,21.8 436.2,20.5 432.3,19.4 428.3,18.3 424.4,17.3 420.4,16.4 416.4,15.5 412.4,14.7 408.4,14 404.3,13.3 400.3,12.7 396.2,12.1 392.2,11.6 388.1,11.2 384,10.8 380,10.5 375.9,10.2 371.8,10 367.7,9.9 363.6,9.9 359.5,9.8 355.4,9.9 351.3,10 347.3,10.1 343.2,10.3 339.1,10.5 335,10.8 330.9,11" fill="#0010c8"/>
<polygon points="330.9,11 335,10.8 339.1,10.5 343.2,10.3 347.3,10.1 351.3,10 355.4,9.9 359.5,9.8 363.6,9.9 367.7,9.9 371.8,10 375.9,10.2 380,10.5 384,10.8 388.1,11.2 392.2,11.6 396.2,12.1 400.3,12.7 404.3,13.3 408.4,14 412.4,14.7 416.4,15.5 420.4,16.4 424.4,17.3 428.3,18.3 432.3,19.4 436.2,20.5 440.1,21.8 444,23.1 447.8,24.5 451.6,26 455.4,27.5 459.1,29.2 462.8,30.9 466.5,32.8 470.1,34.7 473.7,36.6 477.3,38.7 480.7,40.8 484.2,43 487.6,45.2 491,47.5 494.3,49.9 497.6,52.3 500.9,54.7 504.1,57.2 507.4,59.7 510.6,62.1 513.8,64.6 508.4,66 505.3,63.5 502.3,61 499.2,58.6 496.1,56.2 492.9,53.8 489.8,51.4 486.6,49.1 483.4,46.8 480.1,44.6 476.8,42.5 473.4,40.4 470,38.4 466.6,36.5 463.1,34.6 459.5,32.9 455.9,31.2 452.3,29.6 448.7,28.1 445,26.7 441.3,25.4 437.5,24.1 433.7,22.9 429.9,21.8 426.1,20.8 422.3,19.9 418.4,19 414.6,18.1 410.7,17.4 406.8,16.6 402.9,16 399,15.4 395.1,14.8 391.1,14.3 387.2,13.9 383.3,13.5 379.3,13.2 375.4,12.9 371.4,12.8 367.5,12.6 363.5,12.5 359.6,12.5 355.6,12.6 351.7,12.7 347.7,12.8 343.8,13 339.8,13.1 335.9,13.3 331.9,13.6" fill="#0050d8"/>
<polygon points="331.9,13.6 335.9,13.3 339.8,13.1 343.8,13 347.7,12.8 351.7,12.7 355.6,12.6 359.6,12.5 363.5,12.5 367.5,12.6 371.4,12.8 375.4,12.9 379.3,13.2 383.3,13.5 387.2,13.9 391.1,14.3 395.1,14.8 399,15.4 402.9,16 406.8,16.6 410.7,17.4 414.6,18.1 418.4,19 422.3,19.9 426.1,20.8 429.9,21.8 433.7,22.9 437.5,24.1 441.3,25.4 445,26.7 448.7,28.1 452.3,29.6 455.9,31.2 459.5,32.9 463.1,34.6 466.6,36.5 470,38.4 473.4,40.4 476.8,42.5 480.1,44.6 483.4,46.8 486.6,49.1 489.8,51.4 492.9,53.8 496.1,56.2 499.2,58.6 502.3,61 505.3,63.5 508.4,66 503,67.3 500.1,64.8 497.1,62.4 494.2,60 491.2,57.6 488.3,55.3 485.3,52.9 482.2,50.7 479.1,48.4 476,46.3 472.8,44.1 469.6,42.1 466.3,40.2 463,38.3 459.6,36.5 456.2,34.8 452.7,33.2 449.2,31.7 445.7,30.3 442.1,28.9 438.5,27.7 434.9,26.5 431.2,25.3 427.6,24.3 423.9,23.3 420.2,22.4 416.5,21.5 412.7,20.7 409,20 405.2,19.3 401.5,18.6 397.7,18.1 393.9,17.5 390.1,17 386.3,16.6 382.5,16.2 378.7,15.9 374.9,15.7 371.1,15.5 367.3,15.3 363.5,15.2 359.6,15.2 355.8,15.2 352,15.3 348.2,15.4 344.4,15.6 340.6,15.7 336.7,15.9 332.9,16.1" fill="#0090e0"/>
<polygon points="332.9,16.1 336.7,15.9 340.6,15.7 344.4,15.6 348.2,15.4 352,15.3 355.8,15.2 359.6,15.2 363.5,15.2 367.3,15.3 371.1,15.5 374.9,15.7 378.7,15.9 382.5,16.2 386.3,16.6 390.1,17 393.9,17.5 397.7,18.1 401.5,18.6 405.2,19.3 409,20 412.7,20.7 416.5,21.5 420.2,22.4 423.9,23.3 427.6,24.3 431.2,25.3 434.9,26.5 438.5,27.7 442.1,28.9 445.7,30.3 449.2,31.7 452.7,33.2 456.2,34.8 459.6,36.5 463,38.3 466.3,40.2 469.6,42.1 472.8,44.1 476,46.3 479.1,48.4 482.2,50.7 485.3,52.9 488.3,55.3 491.2,57.6 494.2,60 497.1,62.4 500.1,64.8 503,67.3 497.6,68.6 494.8,66.2 492,63.8 489.2,61.4 486.4,59.1 483.6,56.8 480.7,54.5 477.8,52.2 474.9,50 471.9,47.9 468.9,45.8 465.8,43.8 462.6,41.9 459.4,40.1 456.2,38.4 452.9,36.8 449.5,35.3 446.1,33.8 442.7,32.5 439.3,31.2 435.8,30 432.3,28.8 428.8,27.7 425.2,26.8 421.7,25.8 418.1,24.9 414.5,24.1 410.9,23.3 407.3,22.6 403.7,21.9 400,21.3 396.4,20.7 392.7,20.2 389.1,19.7 385.4,19.3 381.8,18.9 378.1,18.6 374.4,18.4 370.7,18.2 367.1,18 363.4,17.9 359.7,17.9 356,17.9 352.3,18 348.7,18.1 345,18.2 341.3,18.3 337.6,18.5 333.9,18.7" fill="#00b8c0"/>
<polygon points="333.9,18.7 337.6,18.5 341.3,18.3 345,18.2 348.7,18.1 352.3,18 356,17.9 359.7,17.9 363.4,17.9 367.1,18 370.7,18.2 374.4,18.4 378.1,18.6 381.8,18.9 385.4,19.3 389.1,19.7 392.7,20.2 396.4,20.7 400,21.3 403.7,21.9 407.3,22.6 410.9,23.3 414.5,24.1 418.1,24.9 421.7,25.8 425.2,26.8 428.8,27.7 432.3,28.8 435.8,30 439.3,31.2 442.7,32.5 446.1,33.8 449.5,35.3 452.9,36.8 456.2,38.4 459.4,40.1 462.6,41.9 465.8,43.8 468.9,45.8 471.9,47.9 474.9,50 477.8,52.2 480.7,54.5 483.6,56.8 486.4,59.1 489.2,61.4 492,63.8 494.8,66.2 497.6,68.6 492.1,69.9 489.5,67.6 486.9,65.2 484.3,62.9 481.6,60.5 478.9,58.3 476.2,56 473.5,53.8 470.7,51.6 467.8,49.5 464.9,47.5 462,45.6 458.9,43.7 455.9,42 452.7,40.3 449.5,38.8 446.3,37.3 443,35.9 439.7,34.6 436.4,33.4 433,32.2 429.7,31.2 426.3,30.2 422.9,29.2 419.4,28.3 416,27.5 412.5,26.7 409,26 405.6,25.3 402.1,24.6 398.6,24 395.1,23.4 391.6,22.9 388.1,22.4 384.5,22 381,21.7 377.5,21.3 373.9,21.1 370.4,20.9 366.9,20.7 363.3,20.6 359.8,20.6 356.2,20.6 352.7,20.6 349.1,20.7 345.6,20.8 342,20.9 338.5,21.1 335,21.2" fill="#10b840"/>
<polygon points="335,21.2 338.5,21.1 342,20.9 345.6,20.8 349.1,20.7 352.7,20.6 356.2,20.6 359.8,20.6 363.3,20.6 366.9,20.7 370.4,20.9 373.9,21.1 377.5,21.3 381,21.7 384.5,22 388.1,22.4 391.6,22.9 395.1,23.4 398.6,24 402.1,24.6 405.6,25.3 409,26 412.5,26.7 416,27.5 419.4,28.3 422.9,29.2 426.3,30.2 429.7,31.2 433,32.2 436.4,33.4 439.7,34.6 443,35.9 446.3,37.3 449.5,38.8 452.7,40.3 455.9,42 458.9,43.7 462,45.6 464.9,47.5 467.8,49.5 470.7,51.6 473.5,53.8 476.2,56 478.9,58.3 481.6,60.5 484.3,62.9 486.9,65.2 489.5,67.6 492.1,69.9 486.7,71.2 484.2,68.9 481.8,66.6 479.3,64.3 476.8,62 474.2,59.7 471.7,57.5 469.1,55.3 466.4,53.2 463.7,51.1 461,49.2 458.1,47.3 455.3,45.5 452.3,43.8 449.3,42.2 446.2,40.7 443.1,39.3 439.9,38 436.8,36.8 433.5,35.6 430.3,34.5 427.1,33.5 423.8,32.6 420.5,31.7 417.2,30.8 413.9,30 410.5,29.3 407.2,28.6 403.9,27.9 400.5,27.3 397.2,26.7 393.8,26.1 390.4,25.6 387,25.1 383.7,24.7 380.3,24.4 376.9,24 373.5,23.8 370.1,23.6 366.6,23.4 363.2,23.3 359.8,23.3 356.4,23.3 353,23.3 349.6,23.3 346.2,23.4 342.8,23.5 339.4,23.7 336,23.8" fill="#44c020"/>
<polygon points="336,23.8 339.4,23.7 342.8,23.5 346.2,23.4 349.6,23.3 353,23.3 356.4,23.3 359.8,23.3 363.2,23.3 366.6,23.4 370.1,23.6 373.5,23.8 376.9,24 380.3,24.4 383.7,24.7 387,25.1 390.4,25.6 393.8,26.1 397.2,26.7 400.5,27.3 403.9,27.9 407.2,28.6 410.5,29.3 413.9,30 417.2,30.8 420.5,31.7 423.8,32.6 427.1,33.5 430.3,34.5 433.5,35.6 436.8,36.8 439.9,38 443.1,39.3 446.2,40.7 449.3,42.2 452.3,43.8 455.3,45.5 458.1,47.3 461,49.2 463.7,51.1 466.4,53.2 469.1,55.3 471.7,57.5 474.2,59.7 476.8,62 479.3,64.3 481.8,66.6 484.2,68.9 486.7,71.2 481.3,72.5 479,70.3 476.6,68 474.3,65.7 472,63.5 469.6,61.2 467.2,59 464.7,56.9 462.2,54.8 459.7,52.8 457,50.8 454.3,49 451.6,47.2 448.7,45.6 445.8,44.1 442.9,42.7 439.9,41.3 436.8,40.1 433.8,39 430.7,37.9 427.6,36.8 424.4,35.9 421.3,35 418.1,34.1 415,33.3 411.8,32.6 408.6,31.8 405.4,31.2 402.2,30.5 398.9,29.9 395.7,29.3 392.5,28.8 389.3,28.3 386,27.8 382.8,27.4 379.5,27.1 376.2,26.8 373,26.5 369.7,26.3 366.4,26.1 363.2,26 359.9,25.9 356.6,25.9 353.3,25.9 350.1,26 346.8,26 343.5,26.1 340.2,26.2 337,26.3" fill="#d4c400"/>
<polygon points="337,26.3 340.2,26.2 343.5,26.1 346.8,26 350.1,26 353.3,25.9 356.6,25.9 359.9,25.9 363.2,26 366.4,26.1 369.7,26.3 373,26.5 376.2,26.8 379.5,27.1 382.8,27.4 386,27.8 389.3,28.3 392.5,28.8 395.7,29.3 398.9,29.9 402.2,30.5 405.4,31.2 408.6,31.8 411.8,32.6 415,33.3 418.1,34.1 421.3,35 424.4,35.9 427.6,36.8 430.7,37.9 433.8,39 436.8,40.1 439.9,41.3 442.9,42.7 445.8,44.1 448.7,45.6 451.6,47.2 454.3,49 457,50.8 459.7,52.8 462.2,54.8 464.7,56.9 467.2,59 469.6,61.2 472,63.5 474.3,65.7 476.6,68 479,70.3 481.3,72.5 475.9,73.9 473.7,71.6 471.5,69.4 469.3,67.1 467.1,64.9 464.9,62.7 462.6,60.6 460.3,58.5 458,56.4 455.6,54.4 453.1,52.5 450.5,50.7 447.9,49 445.2,47.4 442.4,46 439.5,44.6 436.7,43.4 433.7,42.2 430.8,41.1 427.8,40.1 424.8,39.1 421.8,38.2 418.8,37.4 415.8,36.6 412.7,35.8 409.7,35.1 406.6,34.4 403.5,33.8 400.5,33.1 397.4,32.6 394.3,32 391.2,31.5 388.1,31 385,30.5 381.9,30.1 378.7,29.8 375.6,29.5 372.5,29.2 369.4,29 366.2,28.8 363.1,28.7 360,28.6 356.8,28.6 353.7,28.6 350.5,28.6 347.4,28.7 344.3,28.7 341.1,28.8 338,28.9" fill="#e08c10"/>
<polygon points="338,28.9 341.1,28.8 344.3,28.7 347.4,28.7 350.5,28.6 353.7,28.6 356.8,28.6 360,28.6 363.1,28.7 366.2,28.8 369.4,29 372.5,29.2 375.6,29.5 378.7,29.8 381.9,30.1 385,30.5 388.1,31 391.2,31.5 394.3,32 397.4,32.6 400.5,33.1 403.5,33.8 406.6,34.4 409.7,35.1 412.7,35.8 415.8,36.6 418.8,37.4 421.8,38.2 424.8,39.1 427.8,40.1 430.8,41.1 433.7,42.2 436.7,43.4 439.5,44.6 442.4,46 445.2,47.4 447.9,49 450.5,50.7 453.1,52.5 455.6,54.4 458,56.4 460.3,58.5 462.6,60.6 464.9,62.7 467.1,64.9 469.3,67.1 471.5,69.4 473.7,71.6 475.9,73.9 470.4,75.2 468.4,73 466.4,70.8 464.4,68.6 462.3,66.4 460.2,64.2 458.1,62.1 456,60 453.7,58 451.5,56 449.1,54.2 446.7,52.4 444.2,50.8 441.6,49.2 438.9,47.8 436.2,46.6 433.4,45.4 430.6,44.3 427.8,43.3 425,42.3 422.1,41.4 419.2,40.6 416.3,39.8 413.4,39 410.5,38.3 407.6,37.6 404.6,37 401.7,36.4 398.8,35.8 395.8,35.2 392.9,34.7 389.9,34.2 386.9,33.7 384,33.3 381,32.9 378,32.5 375,32.2 372,31.9 369,31.7 366,31.5 363,31.4 360,31.3 357,31.3 354,31.2 351,31.3 348,31.3 345,31.3 342,31.4 339,31.4" fill="#e04a10"/>
<polygon points="339,31.4 342,31.4 345,31.3 348,31.3 351,31.3 354,31.2 357,31.3 360,31.3 363,31.4 366,31.5 369,31.7 372,31.9 375,32.2 378,32.5 381,32.9 384,33.3 386.9,33.7 389.9,34.2 392.9,34.7 395.8,35.2 398.8,35.8 401.7,36.4 404.6,37 407.6,37.6 410.5,38.3 413.4,39 416.3,39.8 419.2,40.6 422.1,41.4 425,42.3 427.8,43.3 430.6,44.3 433.4,45.4 436.2,46.6 438.9,47.8 441.6,49.2 444.2,50.8 446.7,52.4 449.1,54.2 451.5,56 453.7,58 456,60 458.1,62.1 460.2,64.2 462.3,66.4 464.4,68.6 466.4,70.8 468.4,73 470.4,75.2 465,76.5 463.1,74.3 461.3,72.1 459.4,70 457.5,67.8 455.6,65.7 453.6,63.6 451.6,61.6 449.5,59.6 447.4,57.7 445.2,55.8 442.9,54.1 440.5,52.5 438,51.1 435.5,49.7 432.9,48.5 430.2,47.4 427.6,46.4 424.8,45.4 422.1,44.6 419.4,43.7 416.6,42.9 413.8,42.2 411.1,41.5 408.3,40.8 405.5,40.2 402.7,39.6 399.9,39 397.1,38.4 394.2,37.9 391.4,37.3 388.6,36.8 385.8,36.4 382.9,36 380.1,35.6 377.2,35.2 374.4,34.9 371.5,34.6 368.7,34.4 365.8,34.2 362.9,34.1 360.1,34 357.2,33.9 354.3,33.9 351.5,33.9 348.6,33.9 345.7,33.9 342.9,34 340,34" fill="#e60a0a"/>
<polygon points="340,34 342.9,34 345.7,33.9 348.6,33.9 351.5,33.9 354.3,33.9 357.2,33.9 360.1,34 362.9,34.1 365.8,34.2 368.7,34.4 371.5,34.6 374.4,34.9 377.2,35.2 380.1,35.6 382.9,36 385.8,36.4 388.6,36.8 391.4,37.3 394.2,37.9 397.1,38.4 399.9,39 402.7,39.6 405.5,40.2 408.3,40.8 411.1,41.5 413.8,42.2 416.6,42.9 419.4,43.7 422.1,44.6 424.8,45.4 427.6,46.4 430.2,47.4 432.9,48.5 435.5,49.7 438,51.1 440.5,52.5 442.9,54.1 445.2,55.8 447.4,57.7 449.5,59.6 451.6,61.6 453.6,63.6 455.6,65.7 457.5,67.8 459.4,70 461.3,72.1 463.1,74.3 465,76.5 455.5,132.3 453.3,131.1 451.1,129.8 448.9,128.6 446.7,127.3 444.6,125.9 442.5,124.5 440.5,123 438.4,121.5 436.4,119.9 434.5,118.4 432.5,116.8 430.5,115.2 428.6,113.6 426.6,112 424.6,110.4 422.6,108.9 420.6,107.4 418.6,105.9 416.5,104.4 414.4,103 412.2,101.7 410,100.5 407.7,99.4 405.4,98.3 403.1,97.4 400.7,96.5 398.3,95.7 395.9,95 393.4,94.4 391,93.9 388.5,93.5 386,93.2 383.4,92.9 380.9,92.7 378.4,92.6 375.9,92.5 373.3,92.5 370.8,92.5 368.3,92.5 365.8,92.6 363.2,92.8 360.7,92.9 358.2,93.1 355.7,93.3 353.2,93.5 350.6,93.7 348.1,94 345.6,94.2" fill="#e60a0a"/>
<polygon points="465,76.5 469.3,75.5 459.4,131.1 455.5,132.3" fill="#e60a0a"/>
<polygon points="469.3,75.5 473.5,74.4 463.3,130 459.4,131.1" fill="#e60a0a"/>
<polygon points="473.5,74.4 477.8,73.4 467.2,128.8 463.3,130" fill="#e60a0a"/>
<polygon points="477.8,73.4 482.1,72.4 471.1,127.6 467.2,128.8" fill="#e04a10"/>
<polygon points="482.1,72.4 486.3,71.3 475,126.5 471.1,127.6" fill="#e08c10"/>
<polygon points="486.3,71.3 490.6,70.3 478.9,125.3 475,126.5" fill="#d4c400"/>
<polygon points="490.6,70.3 494.9,69.2 482.8,124.1 478.9,125.3" fill="#9cc800"/>
<polygon points="494.9,69.2 499.1,68.2 486.6,123 482.8,124.1" fill="#44c020"/>
<polygon points="499.1,68.2 503.4,67.2 490.5,121.8 486.6,123" fill="#10b840"/>
<polygon points="503.4,67.2 507.6,66.1 494.4,120.7 490.5,121.8" fill="#00c088"/>
<polygon points="507.6,66.1 511.9,65.1 498.3,119.5 494.4,120.7" fill="#00b8c0"/>
<polygon points="511.9,65.1 516.2,64.1 502.2,118.3 498.3,119.5" fill="#0090e0"/>
<polygon points="516.2,64.1 520.4,63 506.1,117.2 502.2,118.3" fill="#0050d8"/>
<polygon points="520.4,63 524.7,62 510,116 506.1,117.2" fill="#0010c8"/>
<polygon points="340,34 328.9,5.9 330.5,63 345.6,94.2" fill="#101010"/>
<polygon points="340,34 339.2,32 344.5,92 345.6,94.2" fill="#e60a0a" opacity="0.92"/>
<polygon points="339.2,32 338.4,30 343.4,89.7 344.5,92" fill="#e60a0a" opacity="0.92"/>
<polygon points="338.4,30 337.6,28 342.4,87.5 343.4,89.7" fill="#e60a0a" opacity="0.92"/>
<polygon points="337.6,28 336.8,26 341.3,85.3 342.4,87.5" fill="#e04a10" opacity="0.92"/>
<polygon points="336.8,26 336,24 340.2,83.1 341.3,85.3" fill="#e08c10" opacity="0.92"/>
<polygon points="336,24 335.2,22 339.1,80.8 340.2,83.1" fill="#d4c400" opacity="0.92"/>
<polygon points="335.2,22 334.4,19.9 338.1,78.6 339.1,80.8" fill="#9cc800" opacity="0.92"/>
<polygon points="334.4,19.9 333.7,17.9 337,76.4 338.1,78.6" fill="#44c020" opacity="0.92"/>
<polygon points="333.7,17.9 332.9,15.9 335.9,74.1 337,76.4" fill="#10b840" opacity="0.92"/>
<polygon points="332.9,15.9 332.1,13.9 334.8,71.9 335.9,74.1" fill="#00c088" opacity="0.92"/>
<polygon points="332.1,13.9 331.3,11.9 333.7,69.7 334.8,71.9" fill="#00b8c0" opacity="0.92"/>
<polygon points="331.3,11.9 330.5,9.9 332.7,67.5 333.7,69.7" fill="#0090e0" opacity="0.92"/>
<polygon points="330.5,9.9 329.7,7.9 331.6,65.2 332.7,67.5" fill="#0050d8" opacity="0.92"/>
<polygon points="329.7,7.9 328.9,5.9 330.5,63 331.6,65.2" fill="#0010c8" opacity="0.92"/>
<path d="M328.9,5.9 L333.3,5.6 L337.6,5.3 L342,5.1 L346.3,4.9 L350.7,4.7 L355,4.6 L359.4,4.5 L363.8,4.5 L368.1,4.5 L372.5,4.6 L376.8,4.8 L381.2,5.1 L385.5,5.4 L389.9,5.8 L394.2,6.2 L398.6,6.7 L402.9,7.3 L407.2,8 L411.5,8.7 L415.8,9.5 L420.1,10.3 L424.3,11.3 L428.6,12.3 L432.8,13.3 L437,14.5 L441.2,15.7 L445.3,17 L449.5,18.5 L453.5,20 L457.6,21.6 L461.6,23.3 L465.6,25.2 L469.5,27 L473.4,29 L477.3,31 L481.1,33.1 L484.9,35.3 L488.7,37.5 L492.4,39.7 L496.1,42.1 L499.7,44.4 L503.4,46.8 L507,49.3 L510.5,51.8 L514.1,54.3 L517.6,56.9 L521.2,59.4 L524.7,62 M329.9,8.5 L334.1,8.2 L338.3,7.9 L342.6,7.7 L346.8,7.5 L351,7.3 L355.2,7.2 L359.5,7.2 L363.7,7.2 L367.9,7.2 L372.1,7.3 L376.4,7.5 L380.6,7.8 L384.8,8.1 L389,8.5 L393.2,8.9 L397.4,9.4 L401.6,10 L405.8,10.6 L409.9,11.3 L414.1,12.1 L418.2,12.9 L422.4,13.8 L426.5,14.8 L430.6,15.8 L434.6,16.9 L438.7,18.1 L442.7,19.4 L446.7,20.8 L450.7,22.2 L454.6,23.8 L458.5,25.4 L462.4,27.2 L466.2,29 L470,30.9 L473.7,32.8 L477.4,34.9 L481.1,37 L484.7,39.1 L488.3,41.4 L491.8,43.7 L495.4,46 L498.8,48.4 L502.3,50.8 L505.7,53.3 L509.1,55.8 L512.5,58.3 L515.9,60.8 L519.3,63.3 M330.9,11 L335,10.8 L339.1,10.5 L343.2,10.3 L347.3,10.1 L351.3,10 L355.4,9.9 L359.5,9.8 L363.6,9.9 L367.7,9.9 L371.8,10 L375.9,10.2 L380,10.5 L384,10.8 L388.1,11.2 L392.2,11.6 L396.2,12.1 L400.3,12.7 L404.3,13.3 L408.4,14 L412.4,14.7 L416.4,15.5 L420.4,16.4 L424.4,17.3 L428.3,18.3 L432.3,19.4 L436.2,20.5 L440.1,21.8 L444,23.1 L447.8,24.5 L451.6,26 L455.4,27.5 L459.1,29.2 L462.8,30.9 L466.5,32.8 L470.1,34.7 L473.7,36.6 L477.3,38.7 L480.7,40.8 L484.2,43 L487.6,45.2 L491,47.5 L494.3,49.9 L497.6,52.3 L500.9,54.7 L504.1,57.2 L507.4,59.7 L510.6,62.1 L513.8,64.6 M331.9,13.6 L335.9,13.3 L339.8,13.1 L343.8,13 L347.7,12.8 L351.7,12.7 L355.6,12.6 L359.6,12.5 L363.5,12.5 L367.5,12.6 L371.4,12.8 L375.4,12.9 L379.3,13.2 L383.3,13.5 L387.2,13.9 L391.1,14.3 L395.1,14.8 L399,15.4 L402.9,16 L406.8,16.6 L410.7,17.4 L414.6,18.1 L418.4,19 L422.3,19.9 L426.1,20.8 L429.9,21.8 L433.7,22.9 L437.5,24.1 L441.3,25.4 L445,26.7 L448.7,28.1 L452.3,29.6 L455.9,31.2 L459.5,32.9 L463.1,34.6 L466.6,36.5 L470,38.4 L473.4,40.4 L476.8,42.5 L480.1,44.6 L483.4,46.8 L486.6,49.1 L489.8,51.4 L492.9,53.8 L496.1,56.2 L499.2,58.6 L502.3,61 L505.3,63.5 L508.4,66 M332.9,16.1 L336.7,15.9 L340.6,15.7 L344.4,15.6 L348.2,15.4 L352,15.3 L355.8,15.2 L359.6,15.2 L363.5,15.2 L367.3,15.3 L371.1,15.5 L374.9,15.7 L378.7,15.9 L382.5,16.2 L386.3,16.6 L390.1,17 L393.9,17.5 L397.7,18.1 L401.5,18.6 L405.2,19.3 L409,20 L412.7,20.7 L416.5,21.5 L420.2,22.4 L423.9,23.3 L427.6,24.3 L431.2,25.3 L434.9,26.5 L438.5,27.7 L442.1,28.9 L445.7,30.3 L449.2,31.7 L452.7,33.2 L456.2,34.8 L459.6,36.5 L463,38.3 L466.3,40.2 L469.6,42.1 L472.8,44.1 L476,46.3 L479.1,48.4 L482.2,50.7 L485.3,52.9 L488.3,55.3 L491.2,57.6 L494.2,60 L497.1,62.4 L500.1,64.8 L503,67.3 M333.9,18.7 L337.6,18.5 L341.3,18.3 L345,18.2 L348.7,18.1 L352.3,18 L356,17.9 L359.7,17.9 L363.4,17.9 L367.1,18 L370.7,18.2 L374.4,18.4 L378.1,18.6 L381.8,18.9 L385.4,19.3 L389.1,19.7 L392.7,20.2 L396.4,20.7 L400,21.3 L403.7,21.9 L407.3,22.6 L410.9,23.3 L414.5,24.1 L418.1,24.9 L421.7,25.8 L425.2,26.8 L428.8,27.7 L432.3,28.8 L435.8,30 L439.3,31.2 L442.7,32.5 L446.1,33.8 L449.5,35.3 L452.9,36.8 L456.2,38.4 L459.4,40.1 L462.6,41.9 L465.8,43.8 L468.9,45.8 L471.9,47.9 L474.9,50 L477.8,52.2 L480.7,54.5 L483.6,56.8 L486.4,59.1 L489.2,61.4 L492,63.8 L494.8,66.2 L497.6,68.6 M335,21.2 L338.5,21.1 L342,20.9 L345.6,20.8 L349.1,20.7 L352.7,20.6 L356.2,20.6 L359.8,20.6 L363.3,20.6 L366.9,20.7 L370.4,20.9 L373.9,21.1 L377.5,21.3 L381,21.7 L384.5,22 L388.1,22.4 L391.6,22.9 L395.1,23.4 L398.6,24 L402.1,24.6 L405.6,25.3 L409,26 L412.5,26.7 L416,27.5 L419.4,28.3 L422.9,29.2 L426.3,30.2 L429.7,31.2 L433,32.2 L436.4,33.4 L439.7,34.6 L443,35.9 L446.3,37.3 L449.5,38.8 L452.7,40.3 L455.9,42 L458.9,43.7 L462,45.6 L464.9,47.5 L467.8,49.5 L470.7,51.6 L473.5,53.8 L476.2,56 L478.9,58.3 L481.6,60.5 L484.3,62.9 L486.9,65.2 L489.5,67.6 L492.1,69.9 M336,23.8 L339.4,23.7 L342.8,23.5 L346.2,23.4 L349.6,23.3 L353,23.3 L356.4,23.3 L359.8,23.3 L363.2,23.3 L366.6,23.4 L370.1,23.6 L373.5,23.8 L376.9,24 L380.3,24.4 L383.7,24.7 L387,25.1 L390.4,25.6 L393.8,26.1 L397.2,26.7 L400.5,27.3 L403.9,27.9 L407.2,28.6 L410.5,29.3 L413.9,30 L417.2,30.8 L420.5,31.7 L423.8,32.6 L427.1,33.5 L430.3,34.5 L433.5,35.6 L436.8,36.8 L439.9,38 L443.1,39.3 L446.2,40.7 L449.3,42.2 L452.3,43.8 L455.3,45.5 L458.1,47.3 L461,49.2 L463.7,51.1 L466.4,53.2 L469.1,55.3 L471.7,57.5 L474.2,59.7 L476.8,62 L479.3,64.3 L481.8,66.6 L484.2,68.9 L486.7,71.2 M337,26.3 L340.2,26.2 L343.5,26.1 L346.8,26 L350.1,26 L353.3,25.9 L356.6,25.9 L359.9,25.9 L363.2,26 L366.4,26.1 L369.7,26.3 L373,26.5 L376.2,26.8 L379.5,27.1 L382.8,27.4 L386,27.8 L389.3,28.3 L392.5,28.8 L395.7,29.3 L398.9,29.9 L402.2,30.5 L405.4,31.2 L408.6,31.8 L411.8,32.6 L415,33.3 L418.1,34.1 L421.3,35 L424.4,35.9 L427.6,36.8 L430.7,37.9 L433.8,39 L436.8,40.1 L439.9,41.3 L442.9,42.7 L445.8,44.1 L448.7,45.6 L451.6,47.2 L454.3,49 L457,50.8 L459.7,52.8 L462.2,54.8 L464.7,56.9 L467.2,59 L469.6,61.2 L472,63.5 L474.3,65.7 L476.6,68 L479,70.3 L481.3,72.5 M338,28.9 L341.1,28.8 L344.3,28.7 L347.4,28.7 L350.5,28.6 L353.7,28.6 L356.8,28.6 L360,28.6 L363.1,28.7 L366.2,28.8 L369.4,29 L372.5,29.2 L375.6,29.5 L378.7,29.8 L381.9,30.1 L385,30.5 L388.1,31 L391.2,31.5 L394.3,32 L397.4,32.6 L400.5,33.1 L403.5,33.8 L406.6,34.4 L409.7,35.1 L412.7,35.8 L415.8,36.6 L418.8,37.4 L421.8,38.2 L424.8,39.1 L427.8,40.1 L430.8,41.1 L433.7,42.2 L436.7,43.4 L439.5,44.6 L442.4,46 L445.2,47.4 L447.9,49 L450.5,50.7 L453.1,52.5 L455.6,54.4 L458,56.4 L460.3,58.5 L462.6,60.6 L464.9,62.7 L467.1,64.9 L469.3,67.1 L471.5,69.4 L473.7,71.6 L475.9,73.9 M339,31.4 L342,31.4 L345,31.3 L348,31.3 L351,31.3 L354,31.2 L357,31.3 L360,31.3 L363,31.4 L366,31.5 L369,31.7 L372,31.9 L375,32.2 L378,32.5 L381,32.9 L384,33.3 L386.9,33.7 L389.9,34.2 L392.9,34.7 L395.8,35.2 L398.8,35.8 L401.7,36.4 L404.6,37 L407.6,37.6 L410.5,38.3 L413.4,39 L416.3,39.8 L419.2,40.6 L422.1,41.4 L425,42.3 L427.8,43.3 L430.6,44.3 L433.4,45.4 L436.2,46.6 L438.9,47.8 L441.6,49.2 L444.2,50.8 L446.7,52.4 L449.1,54.2 L451.5,56 L453.7,58 L456,60 L458.1,62.1 L460.2,64.2 L462.3,66.4 L464.4,68.6 L466.4,70.8 L468.4,73 L470.4,75.2 M340,34 L342.9,34 L345.7,33.9 L348.6,33.9 L351.5,33.9 L354.3,33.9 L357.2,33.9 L360.1,34 L362.9,34.1 L365.8,34.2 L368.7,34.4 L371.5,34.6 L374.4,34.9 L377.2,35.2 L380.1,35.6 L382.9,36 L385.8,36.4 L388.6,36.8 L391.4,37.3 L394.2,37.9 L397.1,38.4 L399.9,39 L402.7,39.6 L405.5,40.2 L408.3,40.8 L411.1,41.5 L413.8,42.2 L416.6,42.9 L419.4,43.7 L422.1,44.6 L424.8,45.4 L427.6,46.4 L430.2,47.4 L432.9,48.5 L435.5,49.7 L438,51.1 L440.5,52.5 L442.9,54.1 L445.2,55.8 L447.4,57.7 L449.5,59.6 L451.6,61.6 L453.6,63.6 L455.6,65.7 L457.5,67.8 L459.4,70 L461.3,72.1 L463.1,74.3 L465,76.5 M328.9,5.9 L340,34 M337.6,5.3 L345.7,33.9 M346.3,4.9 L351.5,33.9 M355,4.6 L357.2,33.9 M363.8,4.5 L362.9,34.1 M372.5,4.6 L368.7,34.4 M381.2,5.1 L374.4,34.9 M389.9,5.8 L380.1,35.6 M398.6,6.7 L385.8,36.4 M407.2,8 L391.4,37.3 M415.8,9.5 L397.1,38.4 M424.3,11.3 L402.7,39.6 M432.8,13.3 L408.3,40.8 M441.2,15.7 L413.8,42.2 M449.5,18.5 L419.4,43.7 M457.6,21.6 L424.8,45.4 M465.6,25.2 L430.2,47.4 M473.4,29 L435.5,49.7 M481.1,33.1 L440.5,52.5 M488.7,37.5 L445.2,55.8 M496.1,42.1 L449.5,59.6 M503.4,46.8 L453.6,63.6 M510.5,51.8 L457.5,67.8 M517.6,56.9 L461.3,72.1 M524.7,62 L465,76.5" fill="none" stroke="#000" stroke-opacity="0.6" stroke-width="0.76"/>
<path d="M340.4,38.6 L343.3,38.6 L346.1,38.5 L349,38.5 L351.8,38.5 L354.6,38.5 L357.5,38.5 L360.3,38.5 L363.2,38.6 L366,38.7 L368.8,38.9 L371.7,39.1 L374.5,39.3 L377.3,39.6 L380.2,40 L383,40.3 L385.8,40.8 L388.6,41.2 L391.4,41.7 L394.2,42.2 L397,42.8 L399.8,43.3 L402.5,43.9 L405.3,44.6 L408.1,45.2 L410.8,45.9 L413.6,46.7 L416.3,47.5 L419,48.3 L421.7,49.2 L424.4,50.1 L427,51.1 L429.7,52.1 L432.2,53.3 L434.8,54.5 L437.3,55.9 L439.7,57.4 L442.1,58.9 L444.3,60.6 L446.5,62.5 L448.7,64.3 L450.7,66.3 L452.7,68.3 L454.7,70.3 L456.7,72.4 L458.6,74.5 L460.5,76.6 L462.4,78.7 L464.3,80.8 M340.9,43.3 L343.7,43.2 L346.5,43.1 L349.3,43.1 L352.1,43 L354.9,43 L357.7,43 L360.6,43 L363.4,43.1 L366.2,43.2 L369,43.3 L371.8,43.5 L374.6,43.8 L377.4,44 L380.2,44.4 L383,44.7 L385.8,45.1 L388.6,45.6 L391.3,46 L394.1,46.6 L396.9,47.1 L399.6,47.7 L402.4,48.3 L405.1,49 L407.8,49.7 L410.6,50.4 L413.3,51.2 L415.9,52 L418.6,52.8 L421.3,53.8 L423.9,54.7 L426.5,55.8 L429.1,56.9 L431.6,58 L434.1,59.3 L436.6,60.7 L438.9,62.2 L441.3,63.8 L443.5,65.5 L445.7,67.2 L447.8,69.1 L449.9,71 L451.9,73 L453.9,75 L455.8,77 L457.8,79 L459.7,81 L461.6,83.1 L463.5,85.1 M341.3,47.9 L344.1,47.8 L346.9,47.7 L349.7,47.7 L352.4,47.6 L355.2,47.6 L358,47.5 L360.8,47.6 L363.6,47.6 L366.4,47.7 L369.2,47.8 L372,48 L374.7,48.2 L377.5,48.4 L380.3,48.8 L383,49.1 L385.8,49.5 L388.6,49.9 L391.3,50.4 L394.1,50.9 L396.8,51.5 L399.5,52.1 L402.2,52.7 L404.9,53.4 L407.6,54.1 L410.3,54.8 L413,55.6 L415.6,56.5 L418.2,57.4 L420.8,58.4 L423.4,59.4 L426,60.5 L428.5,61.6 L431,62.8 L433.4,64.1 L435.8,65.5 L438.2,67 L440.5,68.6 L442.7,70.3 L444.9,72 L447,73.9 L449,75.7 L451,77.7 L453,79.6 L455,81.5 L457,83.5 L458.9,85.5 L460.9,87.4 L462.8,89.4 M341.7,52.5 L344.5,52.4 L347.2,52.3 L350,52.2 L352.8,52.2 L355.5,52.1 L358.3,52.1 L361,52.1 L363.8,52.1 L366.6,52.2 L369.3,52.3 L372.1,52.4 L374.8,52.6 L377.6,52.9 L380.3,53.1 L383.1,53.5 L385.8,53.9 L388.6,54.3 L391.3,54.8 L394,55.3 L396.7,55.8 L399.4,56.4 L402.1,57.1 L404.7,57.8 L407.4,58.5 L410,59.3 L412.7,60.1 L415.3,61 L417.8,62 L420.4,63 L422.9,64 L425.4,65.1 L427.9,66.3 L430.3,67.6 L432.7,68.9 L435.1,70.3 L437.4,71.8 L439.7,73.4 L441.9,75.1 L444,76.8 L446.1,78.6 L448.2,80.5 L450.2,82.3 L452.2,84.2 L454.2,86.1 L456.2,88 L458.1,89.9 L460.1,91.8 L462.1,93.7 M342.2,57.2 L344.9,57 L347.6,56.9 L350.4,56.8 L353.1,56.7 L355.8,56.7 L358.6,56.6 L361.3,56.6 L364,56.6 L366.8,56.7 L369.5,56.7 L372.2,56.9 L375,57 L377.7,57.3 L380.4,57.5 L383.1,57.9 L385.8,58.2 L388.5,58.6 L391.2,59.1 L393.9,59.6 L396.6,60.2 L399.3,60.8 L401.9,61.5 L404.6,62.2 L407.2,62.9 L409.8,63.7 L412.4,64.6 L414.9,65.5 L417.5,66.5 L420,67.6 L422.4,68.7 L424.9,69.8 L427.3,71.1 L429.7,72.3 L432.1,73.7 L434.4,75.1 L436.6,76.6 L438.9,78.2 L441,79.9 L443.2,81.6 L445.3,83.4 L447.3,85.2 L449.3,87 L451.3,88.9 L453.3,90.7 L455.4,92.5 L457.4,94.3 L459.3,96.1 L461.3,98 M342.6,61.8 L345.3,61.7 L348,61.5 L350.7,61.4 L353.4,61.3 L356.1,61.2 L358.8,61.2 L361.5,61.1 L364.2,61.1 L367,61.1 L369.7,61.2 L372.4,61.3 L375.1,61.5 L377.8,61.7 L380.5,61.9 L383.2,62.2 L385.9,62.6 L388.5,63 L391.2,63.5 L393.9,64 L396.5,64.5 L399.2,65.2 L401.8,65.8 L404.4,66.6 L407,67.3 L409.5,68.2 L412.1,69.1 L414.6,70.1 L417.1,71.1 L419.5,72.2 L421.9,73.3 L424.3,74.5 L426.7,75.8 L429.1,77.1 L431.4,78.5 L433.6,79.9 L435.9,81.5 L438.1,83 L440.2,84.7 L442.3,86.4 L444.4,88.2 L446.4,89.9 L448.5,91.7 L450.5,93.5 L452.5,95.3 L454.5,97 L456.6,98.8 L458.6,100.5 L460.6,102.3 M343,66.4 L345.7,66.3 L348.4,66.1 L351.1,66 L353.7,65.9 L356.4,65.8 L359.1,65.7 L361.8,65.6 L364.5,65.6 L367.1,65.6 L369.8,65.7 L372.5,65.8 L375.2,65.9 L377.9,66.1 L380.5,66.3 L383.2,66.6 L385.9,67 L388.5,67.4 L391.2,67.8 L393.8,68.3 L396.4,68.9 L399,69.5 L401.6,70.2 L404.2,71 L406.8,71.8 L409.3,72.6 L411.8,73.6 L414.2,74.6 L416.7,75.7 L419.1,76.8 L421.5,78 L423.8,79.2 L426.1,80.5 L428.4,81.9 L430.7,83.3 L432.9,84.7 L435.1,86.3 L437.3,87.9 L439.4,89.5 L441.5,91.2 L443.5,92.9 L445.6,94.7 L447.6,96.4 L449.7,98.1 L451.7,99.8 L453.7,101.5 L455.8,103.2 L457.8,104.9 L459.9,106.5 M343.4,71 L346.1,70.9 L348.8,70.7 L351.4,70.6 L354.1,70.4 L356.7,70.3 L359.4,70.2 L362,70.2 L364.7,70.1 L367.3,70.1 L370,70.1 L372.6,70.2 L375.3,70.3 L378,70.5 L380.6,70.7 L383.2,71 L385.9,71.3 L388.5,71.7 L391.1,72.2 L393.7,72.7 L396.3,73.3 L398.9,73.9 L401.5,74.6 L404,75.4 L406.5,76.2 L409,77.1 L411.5,78.1 L413.9,79.1 L416.3,80.2 L418.7,81.4 L421,82.6 L423.3,83.9 L425.5,85.2 L427.8,86.6 L430,88.1 L432.2,89.6 L434.3,91.1 L436.5,92.7 L438.6,94.3 L440.6,96 L442.7,97.7 L444.7,99.4 L446.8,101.1 L448.8,102.8 L450.9,104.4 L452.9,106 L455,107.6 L457.1,109.2 L459.2,110.8 M343.9,75.7 L346.5,75.5 L349.1,75.3 L351.8,75.2 L354.4,75 L357,74.9 L359.6,74.8 L362.3,74.7 L364.9,74.6 L367.5,74.6 L370.2,74.6 L372.8,74.7 L375.4,74.8 L378,74.9 L380.7,75.1 L383.3,75.4 L385.9,75.7 L388.5,76.1 L391.1,76.5 L393.7,77 L396.2,77.6 L398.8,78.3 L401.3,79 L403.8,79.8 L406.3,80.6 L408.8,81.6 L411.2,82.6 L413.6,83.6 L415.9,84.8 L418.2,86 L420.5,87.3 L422.7,88.6 L425,90 L427.2,91.4 L429.3,92.9 L431.5,94.4 L433.6,95.9 L435.7,97.5 L437.7,99.1 L439.8,100.8 L441.8,102.4 L443.9,104.1 L445.9,105.8 L448,107.4 L450,109 L452.1,110.5 L454.2,112.1 L456.3,113.6 L458.4,115.1 M344.3,80.3 L346.9,80.1 L349.5,79.9 L352.1,79.7 L354.7,79.6 L357.3,79.4 L359.9,79.3 L362.5,79.2 L365.1,79.1 L367.7,79.1 L370.3,79.1 L372.9,79.1 L375.5,79.2 L378.1,79.3 L380.7,79.5 L383.3,79.8 L385.9,80.1 L388.5,80.4 L391.1,80.9 L393.6,81.4 L396.2,82 L398.7,82.6 L401.2,83.3 L403.7,84.2 L406.1,85 L408.5,86 L410.9,87 L413.2,88.2 L415.5,89.3 L417.8,90.6 L420,91.9 L422.2,93.3 L424.4,94.7 L426.5,96.2 L428.6,97.6 L430.7,99.2 L432.8,100.7 L434.9,102.3 L436.9,103.9 L439,105.6 L441,107.2 L443,108.8 L445.1,110.4 L447.1,112 L449.2,113.5 L451.3,115 L453.4,116.5 L455.6,118 L457.7,119.4 M344.7,84.9 L347.3,84.7 L349.9,84.5 L352.5,84.3 L355,84.1 L357.6,84 L360.2,83.8 L362.8,83.7 L365.3,83.6 L367.9,83.6 L370.5,83.5 L373.1,83.6 L375.6,83.6 L378.2,83.8 L380.8,83.9 L383.4,84.1 L385.9,84.4 L388.5,84.8 L391,85.2 L393.6,85.7 L396.1,86.3 L398.6,87 L401,87.7 L403.5,88.6 L405.9,89.5 L408.3,90.5 L410.6,91.5 L412.9,92.7 L415.1,93.9 L417.4,95.2 L419.5,96.6 L421.7,98 L423.8,99.4 L425.9,100.9 L428,102.4 L430,104 L432,105.6 L434.1,107.2 L436.1,108.8 L438.1,110.4 L440.1,112 L442.2,113.6 L444.2,115.1 L446.3,116.6 L448.4,118.1 L450.5,119.6 L452.7,121 L454.8,122.3 L457,123.7 M345.2,89.6 L347.7,89.3 L350.3,89.1 L352.8,88.9 L355.3,88.7 L357.9,88.5 L360.4,88.4 L363,88.2 L365.5,88.1 L368.1,88.1 L370.7,88 L373.2,88 L375.8,88.1 L378.3,88.2 L380.9,88.3 L383.4,88.5 L385.9,88.8 L388.5,89.2 L391,89.6 L393.5,90.1 L396,90.7 L398.4,91.3 L400.9,92.1 L403.3,93 L405.7,93.9 L408,94.9 L410.3,96 L412.6,97.2 L414.8,98.5 L416.9,99.8 L419,101.2 L421.1,102.7 L423.2,104.2 L425.2,105.7 L427.3,107.2 L429.3,108.8 L431.3,110.4 L433.3,112 L435.3,113.6 L437.3,115.2 L439.3,116.7 L441.3,118.3 L443.4,119.8 L445.4,121.3 L447.6,122.7 L449.7,124.1 L451.9,125.4 L454,126.7 L456.2,128 M345.6,94.2 L348.1,94 L350.6,93.7 L353.2,93.5 L355.7,93.3 L358.2,93.1 L360.7,92.9 L363.2,92.8 L365.8,92.6 L368.3,92.5 L370.8,92.5 L373.3,92.5 L375.9,92.5 L378.4,92.6 L380.9,92.7 L383.4,92.9 L386,93.2 L388.5,93.5 L391,93.9 L393.4,94.4 L395.9,95 L398.3,95.7 L400.7,96.5 L403.1,97.4 L405.4,98.3 L407.7,99.4 L410,100.5 L412.2,101.7 L414.4,103 L416.5,104.4 L418.6,105.9 L420.6,107.4 L422.6,108.9 L424.6,110.4 L426.6,112 L428.6,113.6 L430.5,115.2 L432.5,116.8 L434.5,118.4 L436.4,119.9 L438.4,121.5 L440.5,123 L442.5,124.5 L444.6,125.9 L446.7,127.3 L448.9,128.6 L451.1,129.8 L453.3,131.1 L455.5,132.3 M340,34 L345.6,94.2 M345.7,33.9 L350.6,93.7 M351.5,33.9 L355.7,93.3 M357.2,33.9 L360.7,92.9 M362.9,34.1 L365.8,92.6 M368.7,34.4 L370.8,92.5 M374.4,34.9 L375.9,92.5 M380.1,35.6 L380.9,92.7 M385.8,36.4 L386,93.2 M391.4,37.3 L391,93.9 M397.1,38.4 L395.9,95 M402.7,39.6 L400.7,96.5 M408.3,40.8 L405.4,98.3 M413.8,42.2 L410,100.5 M419.4,43.7 L414.4,103 M424.8,45.4 L418.6,105.9 M430.2,47.4 L422.6,108.9 M435.5,49.7 L426.6,112 M440.5,52.5 L430.5,115.2 M445.2,55.8 L434.5,118.4 M449.5,59.6 L438.4,121.5 M453.6,63.6 L442.5,124.5 M457.5,67.8 L446.7,127.3 M461.3,72.1 L451.1,129.8 M465,76.5 L455.5,132.3 M465,76.5 L455.5,132.3 M469.3,75.5 L459.4,131.1 M473.5,74.4 L463.3,130 M477.8,73.4 L467.2,128.8 M482.1,72.4 L471.1,127.6 M486.3,71.3 L475,126.5 M490.6,70.3 L478.9,125.3 M494.9,69.2 L482.8,124.1 M499.1,68.2 L486.6,123 M503.4,67.2 L490.5,121.8 M507.6,66.1 L494.4,120.7 M511.9,65.1 L498.3,119.5 M516.2,64.1 L502.2,118.3 M520.4,63 L506.1,117.2 M524.7,62 L510,116 M465,76.5 L524.7,62 M464.3,80.8 L523.6,66.2 M463.5,85.1 L522.4,70.3 M462.8,89.4 L521.3,74.5 M462.1,93.7 L520.2,78.6 M461.3,98 L519,82.8 M460.6,102.3 L517.9,86.9 M459.9,106.5 L516.8,91.1 M459.2,110.8 L515.7,95.2 M458.4,115.1 L514.5,99.4 M457.7,119.4 L513.4,103.5 M457,123.7 L512.3,107.7 M456.2,128 L511.1,111.8 M455.5,132.3 L510,116 M334.4,19.9 L338.1,78.6 M328.9,5.9 L330.5,63 M340,34 L328.9,5.9 M340.4,38.6 L329,10.3 M340.9,43.3 L329.1,14.7 M341.3,47.9 L329.3,19.1 M341.7,52.5 L329.4,23.5 M342.2,57.2 L329.5,27.9 M342.6,61.8 L329.6,32.3 M343,66.4 L329.8,36.6 M343.4,71 L329.9,41 M343.9,75.7 L330,45.4 M344.3,80.3 L330.1,49.8 M344.7,84.9 L330.3,54.2 M345.2,89.6 L330.4,58.6 M345.6,94.2 L330.5,63" fill="none" stroke="#000" stroke-opacity="0.55" stroke-width="0.855"/>
<text x="3.2" y="27.4" font-family="Liberation Sans" font-size="6.3" font-weight="normal" fill="#111" text-anchor="start" textLength="22" lengthAdjust="spacingAndGlyphs" stroke="#111" stroke-width="0.12">S, Mises</text>
<text x="3.2" y="34.3" font-family="Liberation Sans" font-size="6.3" font-weight="normal" fill="#111" text-anchor="start" textLength="31.8" lengthAdjust="spacingAndGlyphs" stroke="#111" stroke-width="0.12">(Avg: 75%)</text>
<rect x="2.9" y="39" width="8.1" height="5.6" fill="#e60a0a"/>
<rect x="2.9" y="44.5" width="8.1" height="5.6" fill="#ff5a00"/>
<rect x="2.9" y="50.1" width="8.1" height="5.6" fill="#ffb000"/>
<rect x="2.9" y="55.6" width="8.1" height="5.6" fill="#ecf000"/>
<rect x="2.9" y="61.2" width="8.1" height="5.6" fill="#90e800"/>
<rect x="2.9" y="66.7" width="8.1" height="5.6" fill="#30e000"/>
<rect x="2.9" y="72.2" width="8.1" height="5.6" fill="#00d830"/>
<rect x="2.9" y="77.8" width="8.1" height="5.6" fill="#00e08a"/>
<rect x="2.9" y="83.3" width="8.1" height="5.6" fill="#00e0e0"/>
<rect x="2.9" y="88.9" width="8.1" height="5.6" fill="#00a8f0"/>
<rect x="2.9" y="94.4" width="8.1" height="5.6" fill="#0050f0"/>
<rect x="2.9" y="100" width="8.1" height="5.6" fill="#0000e0"/>
<rect x="12" y="38.7" width="2.3" height="0.6" fill="#444"/>
<text x="17" y="41.1" font-family="Liberation Sans" font-size="5.7" font-weight="normal" fill="#111" text-anchor="start" textLength="34.6" lengthAdjust="spacingAndGlyphs" stroke="#111" stroke-width="0.15">+2.780e+02</text>
<rect x="12" y="44.2" width="2.3" height="0.6" fill="#444"/>
<text x="17" y="46.6" font-family="Liberation Sans" font-size="5.7" font-weight="normal" fill="#111" text-anchor="start" textLength="34.6" lengthAdjust="spacingAndGlyphs" stroke="#111" stroke-width="0.15">+2.719e+02</text>
<rect x="12" y="49.8" width="2.3" height="0.6" fill="#444"/>
<text x="17" y="52.2" font-family="Liberation Sans" font-size="5.7" font-weight="normal" fill="#111" text-anchor="start" textLength="34.6" lengthAdjust="spacingAndGlyphs" stroke="#111" stroke-width="0.15">+2.659e+02</text>
<rect x="12" y="55.3" width="2.3" height="0.6" fill="#444"/>
<text x="17" y="57.7" font-family="Liberation Sans" font-size="5.7" font-weight="normal" fill="#111" text-anchor="start" textLength="34.6" lengthAdjust="spacingAndGlyphs" stroke="#111" stroke-width="0.15">+2.599e+02</text>
<rect x="12" y="60.9" width="2.3" height="0.6" fill="#444"/>
<text x="17" y="63.3" font-family="Liberation Sans" font-size="5.7" font-weight="normal" fill="#111" text-anchor="start" textLength="34.6" lengthAdjust="spacingAndGlyphs" stroke="#111" stroke-width="0.15">+2.539e+02</text>
<rect x="12" y="66.4" width="2.3" height="0.6" fill="#444"/>
<text x="17" y="68.8" font-family="Liberation Sans" font-size="5.7" font-weight="normal" fill="#111" text-anchor="start" textLength="34.6" lengthAdjust="spacingAndGlyphs" stroke="#111" stroke-width="0.15">+2.479e+02</text>
<rect x="12" y="72" width="2.3" height="0.6" fill="#444"/>
<text x="17" y="74.3" font-family="Liberation Sans" font-size="5.7" font-weight="normal" fill="#111" text-anchor="start" textLength="34.6" lengthAdjust="spacingAndGlyphs" stroke="#111" stroke-width="0.15">+2.418e+02</text>
<rect x="12" y="77.5" width="2.3" height="0.6" fill="#444"/>
<text x="17" y="79.9" font-family="Liberation Sans" font-size="5.7" font-weight="normal" fill="#111" text-anchor="start" textLength="34.6" lengthAdjust="spacingAndGlyphs" stroke="#111" stroke-width="0.15">+2.358e+02</text>
<rect x="12" y="83" width="2.3" height="0.6" fill="#444"/>
<text x="17" y="85.4" font-family="Liberation Sans" font-size="5.7" font-weight="normal" fill="#111" text-anchor="start" textLength="34.6" lengthAdjust="spacingAndGlyphs" stroke="#111" stroke-width="0.15">+2.298e+02</text>
<rect x="12" y="88.6" width="2.3" height="0.6" fill="#444"/>
<text x="17" y="91" font-family="Liberation Sans" font-size="5.7" font-weight="normal" fill="#111" text-anchor="start" textLength="34.6" lengthAdjust="spacingAndGlyphs" stroke="#111" stroke-width="0.15">+2.238e+02</text>
<rect x="12" y="94.1" width="2.3" height="0.6" fill="#444"/>
<text x="17" y="96.5" font-family="Liberation Sans" font-size="5.7" font-weight="normal" fill="#111" text-anchor="start" textLength="34.6" lengthAdjust="spacingAndGlyphs" stroke="#111" stroke-width="0.15">+2.178e+02</text>
<rect x="12" y="99.7" width="2.3" height="0.6" fill="#444"/>
<text x="17" y="102.1" font-family="Liberation Sans" font-size="5.7" font-weight="normal" fill="#111" text-anchor="start" textLength="34.6" lengthAdjust="spacingAndGlyphs" stroke="#111" stroke-width="0.15">+2.117e+02</text>
<rect x="12" y="105.2" width="2.3" height="0.6" fill="#444"/>
<text x="17" y="107.6" font-family="Liberation Sans" font-size="5.7" font-weight="normal" fill="#111" text-anchor="start" textLength="34.6" lengthAdjust="spacingAndGlyphs" stroke="#111" stroke-width="0.15">+2.057e+02</text>
<text x="278.5" y="27.4" font-family="Liberation Sans" font-size="6.3" font-weight="normal" fill="#111" text-anchor="start" textLength="22" lengthAdjust="spacingAndGlyphs" stroke="#111" stroke-width="0.12">S, Mises</text>
<text x="278.5" y="34.3" font-family="Liberation Sans" font-size="6.3" font-weight="normal" fill="#111" text-anchor="start" textLength="31.8" lengthAdjust="spacingAndGlyphs" stroke="#111" stroke-width="0.12">(Avg: 75%)</text>
<rect x="278.5" y="39" width="8.1" height="5.6" fill="#e60a0a"/>
<rect x="278.5" y="44.5" width="8.1" height="5.6" fill="#ff5a00"/>
<rect x="278.5" y="50.1" width="8.1" height="5.6" fill="#ffb000"/>
<rect x="278.5" y="55.6" width="8.1" height="5.6" fill="#ecf000"/>
<rect x="278.5" y="61.2" width="8.1" height="5.6" fill="#90e800"/>
<rect x="278.5" y="66.7" width="8.1" height="5.6" fill="#30e000"/>
<rect x="278.5" y="72.2" width="8.1" height="5.6" fill="#00d830"/>
<rect x="278.5" y="77.8" width="8.1" height="5.6" fill="#00e08a"/>
<rect x="278.5" y="83.3" width="8.1" height="5.6" fill="#00e0e0"/>
<rect x="278.5" y="88.9" width="8.1" height="5.6" fill="#00a8f0"/>
<rect x="278.5" y="94.4" width="8.1" height="5.6" fill="#0050f0"/>
<rect x="278.5" y="100" width="8.1" height="5.6" fill="#0000e0"/>
<rect x="287.6" y="38.7" width="2.3" height="0.6" fill="#444"/>
<text x="292.5" y="41.1" font-family="Liberation Sans" font-size="5.7" font-weight="normal" fill="#111" text-anchor="start" textLength="33.8" lengthAdjust="spacingAndGlyphs" stroke="#111" stroke-width="0.15">+4.378e+02</text>
<rect x="287.6" y="44.2" width="2.3" height="0.6" fill="#444"/>
<text x="292.5" y="46.6" font-family="Liberation Sans" font-size="5.7" font-weight="normal" fill="#111" text-anchor="start" textLength="33.8" lengthAdjust="spacingAndGlyphs" stroke="#111" stroke-width="0.15">+4.240e+02</text>
<rect x="287.6" y="49.8" width="2.3" height="0.6" fill="#444"/>
<text x="292.5" y="52.2" font-family="Liberation Sans" font-size="5.7" font-weight="normal" fill="#111" text-anchor="start" textLength="33.8" lengthAdjust="spacingAndGlyphs" stroke="#111" stroke-width="0.15">+4.102e+02</text>
<rect x="287.6" y="55.3" width="2.3" height="0.6" fill="#444"/>
<text x="292.5" y="57.7" font-family="Liberation Sans" font-size="5.7" font-weight="normal" fill="#111" text-anchor="start" textLength="33.8" lengthAdjust="spacingAndGlyphs" stroke="#111" stroke-width="0.15">+3.964e+02</text>
<rect x="287.6" y="60.9" width="2.3" height="0.6" fill="#444"/>
<text x="292.5" y="63.3" font-family="Liberation Sans" font-size="5.7" font-weight="normal" fill="#111" text-anchor="start" textLength="33.8" lengthAdjust="spacingAndGlyphs" stroke="#111" stroke-width="0.15">+3.825e+02</text>
<rect x="287.6" y="66.4" width="2.3" height="0.6" fill="#444"/>
<text x="292.5" y="68.8" font-family="Liberation Sans" font-size="5.7" font-weight="normal" fill="#111" text-anchor="start" textLength="33.8" lengthAdjust="spacingAndGlyphs" stroke="#111" stroke-width="0.15">+3.687e+02</text>
<rect x="287.6" y="72" width="2.3" height="0.6" fill="#444"/>
<text x="292.5" y="74.3" font-family="Liberation Sans" font-size="5.7" font-weight="normal" fill="#111" text-anchor="start" textLength="33.8" lengthAdjust="spacingAndGlyphs" stroke="#111" stroke-width="0.15">+3.549e+02</text>
<rect x="287.6" y="77.5" width="2.3" height="0.6" fill="#444"/>
<text x="292.5" y="79.9" font-family="Liberation Sans" font-size="5.7" font-weight="normal" fill="#111" text-anchor="start" textLength="33.8" lengthAdjust="spacingAndGlyphs" stroke="#111" stroke-width="0.15">+3.411e+02</text>
<rect x="287.6" y="83" width="2.3" height="0.6" fill="#444"/>
<text x="292.5" y="85.4" font-family="Liberation Sans" font-size="5.7" font-weight="normal" fill="#111" text-anchor="start" textLength="33.8" lengthAdjust="spacingAndGlyphs" stroke="#111" stroke-width="0.15">+3.273e+02</text>
<rect x="287.6" y="88.6" width="2.3" height="0.6" fill="#444"/>
<text x="292.5" y="91" font-family="Liberation Sans" font-size="5.7" font-weight="normal" fill="#111" text-anchor="start" textLength="33.8" lengthAdjust="spacingAndGlyphs" stroke="#111" stroke-width="0.15">+3.135e+02</text>
<rect x="287.6" y="94.1" width="2.3" height="0.6" fill="#444"/>
<text x="292.5" y="96.5" font-family="Liberation Sans" font-size="5.7" font-weight="normal" fill="#111" text-anchor="start" textLength="33.8" lengthAdjust="spacingAndGlyphs" stroke="#111" stroke-width="0.15">+2.996e+02</text>
<rect x="287.6" y="99.7" width="2.3" height="0.6" fill="#444"/>
<text x="292.5" y="102.1" font-family="Liberation Sans" font-size="5.7" font-weight="normal" fill="#111" text-anchor="start" textLength="33.8" lengthAdjust="spacingAndGlyphs" stroke="#111" stroke-width="0.15">+2.858e+02</text>
<rect x="287.6" y="105.2" width="2.3" height="0.6" fill="#444"/>
<text x="292.5" y="107.6" font-family="Liberation Sans" font-size="5.7" font-weight="normal" fill="#111" text-anchor="start" textLength="33.8" lengthAdjust="spacingAndGlyphs" stroke="#111" stroke-width="0.15">+2.720e+02</text>
<text x="36.5" y="15" font-family="Liberation Serif" font-size="11.5" font-weight="bold" fill="#111" text-anchor="start">(a)</text>
<text x="310" y="16.5" font-family="Liberation Serif" font-size="11.5" font-weight="bold" fill="#111" text-anchor="start">(b)</text>
<line x1="181.7" y1="79.5" x2="237.8" y2="64.7" stroke="#ee1c1c" stroke-width="3.0"/><polygon points="246,62.5 238.8,68.5 236.8,60.8" fill="#ee1c1c"/>
<line x1="465" y1="89.5" x2="516.3" y2="76.6" stroke="#ee1c1c" stroke-width="3.0"/><polygon points="524.5,74.5 517.2,80.5 515.3,72.7" fill="#ee1c1c"/>
<text x="245.5" y="75.4" font-family="Liberation Serif" font-size="9.4" font-weight="bold" fill="#111" text-anchor="start">pathA</text>
<text x="239.4" y="113.4" font-family="Liberation Serif" font-size="9" font-weight="bold" fill="#111" text-anchor="start">outside</text>
<text x="147.4" y="123.7" font-family="Liberation Serif" font-size="9" font-weight="bold" fill="#111" text-anchor="start">inside</text>
<text x="522.5" y="87.5" font-family="Liberation Serif" font-size="9.4" font-weight="bold" fill="#111" text-anchor="start">pathB</text>
<text x="513" y="118.3" font-family="Liberation Serif" font-size="9" font-weight="bold" fill="#111" text-anchor="start">outside</text>
<text x="427" y="132.5" font-family="Liberation Serif" font-size="9.2" font-weight="bold" fill="#111" text-anchor="start">inside</text>
<rect x="57.6" y="112.3" width="66.2" height="11.5" fill="#fff" stroke="#2f7fc8" stroke-width="1.1"/><text x="90.7" y="120.8" font-family="Liberation Serif" font-size="7.9" font-weight="bold" fill="#1a56a0" text-anchor="middle" textLength="58" lengthAdjust="spacingAndGlyphs" stroke="#1a56a0" stroke-width="0.2">316 Stainless Steel</text>
<rect x="332.3" y="112" width="38.2" height="12.8" fill="#fff" stroke="#2f7fc8" stroke-width="1.1"/><text x="351.4" y="121.8" font-family="Liberation Serif" font-size="7.9" font-weight="bold" fill="#1a56a0" text-anchor="middle" textLength="32" lengthAdjust="spacingAndGlyphs" stroke="#1a56a0" stroke-width="0.2">Zircaloy-4</text>
<rect x="8" y="141" width="267" height="231" fill="#fafafa"/><rect x="276" y="141" width="274" height="231" fill="#fafafa"/><rect x="41.7" y="153.4" width="226" height="183.1" fill="#fff"/><rect x="308.6" y="156" width="226.4" height="182.6" fill="#fff"/>
<path d="M96.2,153.4 V336.5 M132.7,153.4 V336.5 M169.1,153.4 V336.5 M205.6,153.4 V336.5 M41.7,318.2 H267.7 M41.7,299.9 H267.7 M41.7,281.6 H267.7 M41.7,263.3 H267.7 M41.7,244.9 H267.7 M41.7,226.6 H267.7 M41.7,208.3 H267.7 M41.7,190 H267.7 M41.7,171.7 H267.7" stroke="#eaeaea" stroke-width="0.9" fill="none"/>
<line x1="41.7" y1="244.9" x2="267.7" y2="244.9" stroke="#555" stroke-width="1" stroke-dasharray="3,2"/>
<path d="M59.8,153.4 V336.5 M242,153.4 V336.5" stroke="#4a7cc8" stroke-width="1.7"/>
<path d="M59.8,274.6 L78,272.4 L92.6,267.5 L110.1,262.5 L130.5,258.1 L150.5,253.7 L170.6,250.8 L190.3,248.9 L214.7,247.1 L242,246" fill="none" stroke="#f01414" stroke-width="2" stroke-linejoin="round"/>
<path d="M59.8,310.9 L78,307.2 L92.6,300.2 L110.1,290.4 L130.5,280.1 L150.5,272.7 L170.6,263.8 L190.3,257 L214.7,251.9 L242,247.1" fill="none" stroke="#f014f0" stroke-width="2" stroke-linejoin="round"/>
<path d="M59.8,193.7 L94.1,201 L120.8,207.7 L150.2,213.1 L177.1,217.2 L203.7,219.9 L242,222" fill="none" stroke="#1414f0" stroke-width="2" stroke-linejoin="round"/>
<path d="M59.8,193.7 L77.8,192.9 L107.5,179.5 L134.1,171.4 L150.2,168.4 L177.1,163.4 L203.7,161.2 L242,162" fill="none" stroke="#128a12" stroke-width="2" stroke-linejoin="round"/>
<path d="M59.8,271.3 L83.1,264 L100.6,260.7 L123.6,256.5 L145.3,253.4 L180.2,249.7 L206.3,247.5 L242,245.3" fill="none" stroke="#f01414" stroke-width="1.3" stroke-dasharray="1.3,1.3"/>
<polygon points="59.8,267.4 63.6,273.9 56,273.9" fill="#fff" fill-opacity="0.6" stroke="#f01414" stroke-width="1.75"/>
<polygon points="83.1,260 86.9,266.6 79.3,266.6" fill="#fff" fill-opacity="0.6" stroke="#f01414" stroke-width="1.75"/>
<polygon points="100.6,256.7 104.4,263.3 96.8,263.3" fill="#fff" fill-opacity="0.6" stroke="#f01414" stroke-width="1.75"/>
<polygon points="123.6,252.5 127.4,259.1 119.8,259.1" fill="#fff" fill-opacity="0.6" stroke="#f01414" stroke-width="1.75"/>
<polygon points="145.3,249.4 149.1,256 141.5,256" fill="#fff" fill-opacity="0.6" stroke="#f01414" stroke-width="1.75"/>
<polygon points="180.2,245.8 184,252.3 176.4,252.3" fill="#fff" fill-opacity="0.6" stroke="#f01414" stroke-width="1.75"/>
<polygon points="206.3,243.6 210.1,250.1 202.5,250.1" fill="#fff" fill-opacity="0.6" stroke="#f01414" stroke-width="1.75"/>
<polygon points="242,241.4 245.8,247.9 238.2,247.9" fill="#fff" fill-opacity="0.6" stroke="#f01414" stroke-width="1.75"/>
<path d="M59.8,199.7 L83.1,207.7 L100.6,209.6 L123.6,214.6 L145.3,218.6 L180.2,221.2 L206.3,222.5 L242,225.9" fill="none" stroke="#1414f0" stroke-width="1.3" stroke-dasharray="1.3,1.3"/>
<polygon points="59.8,203.7 63.6,197.1 56,197.1" fill="#fff" fill-opacity="0.6" stroke="#1414f0" stroke-width="1.75"/>
<polygon points="83.1,211.7 86.9,205.1 79.3,205.1" fill="#fff" fill-opacity="0.6" stroke="#1414f0" stroke-width="1.75"/>
<polygon points="100.6,213.6 104.4,207 96.8,207" fill="#fff" fill-opacity="0.6" stroke="#1414f0" stroke-width="1.75"/>
<polygon points="123.6,218.5 127.4,211.9 119.8,211.9" fill="#fff" fill-opacity="0.6" stroke="#1414f0" stroke-width="1.75"/>
<polygon points="145.3,222.5 149.1,216 141.5,216" fill="#fff" fill-opacity="0.6" stroke="#1414f0" stroke-width="1.75"/>
<polygon points="180.2,225.2 184,218.6 176.4,218.6" fill="#fff" fill-opacity="0.6" stroke="#1414f0" stroke-width="1.75"/>
<polygon points="206.3,226.5 210.1,219.9 202.5,219.9" fill="#fff" fill-opacity="0.6" stroke="#1414f0" stroke-width="1.75"/>
<polygon points="242,229.9 245.8,223.3 238.2,223.3" fill="#fff" fill-opacity="0.6" stroke="#1414f0" stroke-width="1.75"/>
<path d="M59.8,299.9 L83.1,291 L100.6,284.5 L123.6,276.4 L145.3,269.7 L180.2,259.6 L206.3,254.5 L242,247.1" fill="none" stroke="#f014f0" stroke-width="1.3" stroke-dasharray="1.3,1.3"/>
<polygon points="55.9,299.9 62.4,296.1 62.4,303.7" fill="#fff" fill-opacity="0.6" stroke="#f014f0" stroke-width="1.75"/>
<polygon points="79.2,291 85.8,287.2 85.8,294.8" fill="#fff" fill-opacity="0.6" stroke="#f014f0" stroke-width="1.75"/>
<polygon points="96.7,284.5 103.2,280.7 103.2,288.3" fill="#fff" fill-opacity="0.6" stroke="#f014f0" stroke-width="1.75"/>
<polygon points="119.6,276.4 126.2,272.6 126.2,280.2" fill="#fff" fill-opacity="0.6" stroke="#f014f0" stroke-width="1.75"/>
<polygon points="141.3,269.7 147.9,265.9 147.9,273.5" fill="#fff" fill-opacity="0.6" stroke="#f014f0" stroke-width="1.75"/>
<polygon points="176.3,259.6 182.9,255.8 182.9,263.4" fill="#fff" fill-opacity="0.6" stroke="#f014f0" stroke-width="1.75"/>
<polygon points="202.3,254.5 208.9,250.7 208.9,258.3" fill="#fff" fill-opacity="0.6" stroke="#f014f0" stroke-width="1.75"/>
<polygon points="238.1,247.1 244.6,243.3 244.6,250.9" fill="#fff" fill-opacity="0.6" stroke="#f014f0" stroke-width="1.75"/>
<path d="M59.8,212.4 L83.1,202.5 L100.6,197 L123.6,188.9 L145.3,182.7 L180.2,173.5 L206.3,173.5 L242,180.9" fill="none" stroke="#128a12" stroke-width="1.3" stroke-dasharray="1.3,1.3"/>
<polygon points="63.7,212.4 57.2,208.6 57.2,216.2" fill="#fff" fill-opacity="0.6" stroke="#128a12" stroke-width="1.75"/>
<polygon points="87.1,202.5 80.5,198.7 80.5,206.3" fill="#fff" fill-opacity="0.6" stroke="#128a12" stroke-width="1.75"/>
<polygon points="104.6,197 98,193.2 98,200.8" fill="#fff" fill-opacity="0.6" stroke="#128a12" stroke-width="1.75"/>
<polygon points="127.5,188.9 120.9,185.1 120.9,192.7" fill="#fff" fill-opacity="0.6" stroke="#128a12" stroke-width="1.75"/>
<polygon points="149.2,182.7 142.6,178.9 142.6,186.5" fill="#fff" fill-opacity="0.6" stroke="#128a12" stroke-width="1.75"/>
<polygon points="184.2,173.5 177.6,169.7 177.6,177.3" fill="#fff" fill-opacity="0.6" stroke="#128a12" stroke-width="1.75"/>
<polygon points="210.2,173.5 203.7,169.7 203.7,177.3" fill="#fff" fill-opacity="0.6" stroke="#128a12" stroke-width="1.75"/>
<polygon points="245.9,180.9 239.4,177.1 239.4,184.7" fill="#fff" fill-opacity="0.6" stroke="#128a12" stroke-width="1.75"/>
<rect x="41.7" y="153.4" width="226" height="183.1" fill="none" stroke="#555" stroke-width="1.3"/>
<path d="M41.7,336.5 h-3 M41.7,327.3 h-2 M41.7,318.2 h-3 M41.7,309 h-2 M41.7,299.9 h-3 M41.7,290.7 h-2 M41.7,281.6 h-3 M41.7,272.4 h-2 M41.7,263.3 h-3 M41.7,254.1 h-2 M41.7,244.9 h-3 M41.7,235.8 h-2 M41.7,226.6 h-3 M41.7,217.5 h-2 M41.7,208.3 h-3 M41.7,199.2 h-2 M41.7,190 h-3 M41.7,180.9 h-2 M41.7,171.7 h-3 M41.7,162.6 h-2 M41.7,153.4 h-3 M59.8,336.5 v3 M78,336.5 v2 M96.2,336.5 v3 M114.5,336.5 v2 M132.7,336.5 v3 M150.9,336.5 v2 M169.1,336.5 v3 M187.3,336.5 v2 M205.6,336.5 v3 M223.8,336.5 v2 M242,336.5 v3 M260.2,336.5 v2" stroke="#3a3a3a" stroke-width="0.9" fill="none"/>
<text x="35.4" y="156.1" font-family="Liberation Sans" font-size="7.6" font-weight="normal" fill="#222" text-anchor="end" stroke="#222" stroke-width="0.15">250</text>
<text x="35.4" y="174.4" font-family="Liberation Sans" font-size="7.6" font-weight="normal" fill="#222" text-anchor="end" stroke="#222" stroke-width="0.15">200</text>
<text x="35.4" y="192.7" font-family="Liberation Sans" font-size="7.6" font-weight="normal" fill="#222" text-anchor="end" stroke="#222" stroke-width="0.15">150</text>
<text x="35.4" y="211" font-family="Liberation Sans" font-size="7.6" font-weight="normal" fill="#222" text-anchor="end" stroke="#222" stroke-width="0.15">100</text>
<text x="35.4" y="229.3" font-family="Liberation Sans" font-size="7.6" font-weight="normal" fill="#222" text-anchor="end" stroke="#222" stroke-width="0.15">50</text>
<text x="35.4" y="247.6" font-family="Liberation Sans" font-size="7.6" font-weight="normal" fill="#222" text-anchor="end" stroke="#222" stroke-width="0.15">0</text>
<text x="35.4" y="266" font-family="Liberation Sans" font-size="7.6" font-weight="normal" fill="#222" text-anchor="end" stroke="#222" stroke-width="0.15">-50</text>
<text x="35.4" y="284.3" font-family="Liberation Sans" font-size="7.6" font-weight="normal" fill="#222" text-anchor="end" stroke="#222" stroke-width="0.15">-100</text>
<text x="35.4" y="302.6" font-family="Liberation Sans" font-size="7.6" font-weight="normal" fill="#222" text-anchor="end" stroke="#222" stroke-width="0.15">-150</text>
<text x="35.4" y="320.9" font-family="Liberation Sans" font-size="7.6" font-weight="normal" fill="#222" text-anchor="end" stroke="#222" stroke-width="0.15">-200</text>
<text x="35.4" y="339.2" font-family="Liberation Sans" font-size="7.6" font-weight="normal" fill="#222" text-anchor="end" stroke="#222" stroke-width="0.15">-250</text>
<text x="59.8" y="348.5" font-family="Liberation Sans" font-size="7.6" font-weight="normal" fill="#222" text-anchor="middle" stroke="#222" stroke-width="0.15">0.0</text>
<text x="96.2" y="348.5" font-family="Liberation Sans" font-size="7.6" font-weight="normal" fill="#222" text-anchor="middle" stroke="#222" stroke-width="0.15">0.2</text>
<text x="132.7" y="348.5" font-family="Liberation Sans" font-size="7.6" font-weight="normal" fill="#222" text-anchor="middle" stroke="#222" stroke-width="0.15">0.4</text>
<text x="169.1" y="348.5" font-family="Liberation Sans" font-size="7.6" font-weight="normal" fill="#222" text-anchor="middle" stroke="#222" stroke-width="0.15">0.6</text>
<text x="205.6" y="348.5" font-family="Liberation Sans" font-size="7.6" font-weight="normal" fill="#222" text-anchor="middle" stroke="#222" stroke-width="0.15">0.8</text>
<text x="242" y="348.5" font-family="Liberation Sans" font-size="7.6" font-weight="normal" fill="#222" text-anchor="middle" stroke="#222" stroke-width="0.15">1.0</text>
<text x="62.3" y="152.1" font-family="Liberation Serif" font-size="9.6" font-weight="bold" fill="#000" text-anchor="middle">inside</text>
<text x="240.5" y="152.1" font-family="Liberation Serif" font-size="9.6" font-weight="bold" fill="#000" text-anchor="middle">outside</text>
<text x="43.3" y="164" font-family="Liberation Serif" font-size="11.5" font-weight="bold" fill="#111" text-anchor="start">(c)</text>
<path d="M363,156 V338.6 M398.7,156 V338.6 M434.3,156 V338.6 M470,156 V338.6 M308.6,312.5 H535 M308.6,286.4 H535 M308.6,260.3 H535 M308.6,234.3 H535 M308.6,208.2 H535 M308.6,182.1 H535" stroke="#eaeaea" stroke-width="0.9" fill="none"/>
<line x1="308.6" y1="247.3" x2="535" y2="247.3" stroke="#555" stroke-width="1" stroke-dasharray="3,2"/>
<path d="M327.4,156 V338.6 M505.6,156 V338.6" stroke="#4a7cc8" stroke-width="1.7"/>
<path d="M327.4,281.7 L345,277.7 L363.8,270.9 L390.7,262.9 L419.9,256.8 L446.1,252.5 L470,250.3 L505.6,248.1" fill="none" stroke="#f01414" stroke-width="2" stroke-linejoin="round"/>
<path d="M327.4,318 L345,312.5 L363.8,300.5 L390.7,285.6 L419.9,272.1 L446.1,262.3 L470,255.6 L505.6,249.1" fill="none" stroke="#f014f0" stroke-width="2" stroke-linejoin="round"/>
<path d="M327.4,192.5 L363.8,201 L390.7,206.5 L418.3,211.3 L460.2,216 L505.6,220" fill="none" stroke="#1414f0" stroke-width="2" stroke-linejoin="round"/>
<path d="M327.4,186.3 L345,182.9 L363.8,174.3 L382.6,168.3 L401.5,164.9 L430.4,164.1 L460.2,164.9 L505.6,167.6" fill="none" stroke="#128a12" stroke-width="2" stroke-linejoin="round"/>
<path d="M327.4,265.8 L350.2,260.6 L367.3,258 L389.8,255.3 L411,252.8 L445.2,251.1 L470.7,248.9 L505.6,248.1" fill="none" stroke="#f01414" stroke-width="1.3" stroke-dasharray="1.3,1.3"/>
<polygon points="327.4,261.9 331.2,268.5 323.6,268.5" fill="#fff" fill-opacity="0.6" stroke="#f01414" stroke-width="1.75"/>
<polygon points="350.2,256.7 354,263.2 346.4,263.2" fill="#fff" fill-opacity="0.6" stroke="#f01414" stroke-width="1.75"/>
<polygon points="367.3,254 371.1,260.6 363.5,260.6" fill="#fff" fill-opacity="0.6" stroke="#f01414" stroke-width="1.75"/>
<polygon points="389.8,251.3 393.6,257.9 386,257.9" fill="#fff" fill-opacity="0.6" stroke="#f01414" stroke-width="1.75"/>
<polygon points="411,248.8 414.8,255.4 407.2,255.4" fill="#fff" fill-opacity="0.6" stroke="#f01414" stroke-width="1.75"/>
<polygon points="445.2,247.1 449,253.7 441.4,253.7" fill="#fff" fill-opacity="0.6" stroke="#f01414" stroke-width="1.75"/>
<polygon points="470.7,244.9 474.5,251.5 466.9,251.5" fill="#fff" fill-opacity="0.6" stroke="#f01414" stroke-width="1.75"/>
<polygon points="505.6,244.1 509.4,250.7 501.8,250.7" fill="#fff" fill-opacity="0.6" stroke="#f01414" stroke-width="1.75"/>
<path d="M327.4,214.6 L350.2,220.5 L367.3,222.6 L389.8,226.7 L411,228.6 L445.2,229.9 L470.7,232 L505.6,233" fill="none" stroke="#1414f0" stroke-width="1.3" stroke-dasharray="1.3,1.3"/>
<polygon points="327.4,218.6 331.2,212 323.6,212" fill="#fff" fill-opacity="0.6" stroke="#1414f0" stroke-width="1.75"/>
<polygon points="350.2,224.5 354,217.9 346.4,217.9" fill="#fff" fill-opacity="0.6" stroke="#1414f0" stroke-width="1.75"/>
<polygon points="367.3,226.6 371.1,220 363.5,220" fill="#fff" fill-opacity="0.6" stroke="#1414f0" stroke-width="1.75"/>
<polygon points="389.8,230.6 393.6,224.1 386,224.1" fill="#fff" fill-opacity="0.6" stroke="#1414f0" stroke-width="1.75"/>
<polygon points="411,232.6 414.8,226 407.2,226" fill="#fff" fill-opacity="0.6" stroke="#1414f0" stroke-width="1.75"/>
<polygon points="445.2,233.8 449,227.3 441.4,227.3" fill="#fff" fill-opacity="0.6" stroke="#1414f0" stroke-width="1.75"/>
<polygon points="470.7,236 474.5,229.4 466.9,229.4" fill="#fff" fill-opacity="0.6" stroke="#1414f0" stroke-width="1.75"/>
<polygon points="505.6,236.9 509.4,230.3 501.8,230.3" fill="#fff" fill-opacity="0.6" stroke="#1414f0" stroke-width="1.75"/>
<path d="M327.4,286.4 L350.2,279.9 L367.3,275.2 L389.8,270.4 L411,265.3 L445.2,258.5 L470.7,254.1 L505.6,248.6" fill="none" stroke="#f014f0" stroke-width="1.3" stroke-dasharray="1.3,1.3"/>
<polygon points="323.5,286.4 330,282.6 330,290.2" fill="#fff" fill-opacity="0.6" stroke="#f014f0" stroke-width="1.75"/>
<polygon points="346.3,279.9 352.8,276.1 352.8,283.7" fill="#fff" fill-opacity="0.6" stroke="#f014f0" stroke-width="1.75"/>
<polygon points="363.4,275.2 369.9,271.4 369.9,279" fill="#fff" fill-opacity="0.6" stroke="#f014f0" stroke-width="1.75"/>
<polygon points="385.8,270.4 392.4,266.6 392.4,274.2" fill="#fff" fill-opacity="0.6" stroke="#f014f0" stroke-width="1.75"/>
<polygon points="407,265.3 413.6,261.5 413.6,269.1" fill="#fff" fill-opacity="0.6" stroke="#f014f0" stroke-width="1.75"/>
<polygon points="441.2,258.5 447.8,254.7 447.8,262.3" fill="#fff" fill-opacity="0.6" stroke="#f014f0" stroke-width="1.75"/>
<polygon points="466.7,254.1 473.3,250.3 473.3,257.9" fill="#fff" fill-opacity="0.6" stroke="#f014f0" stroke-width="1.75"/>
<polygon points="501.7,248.6 508.2,244.8 508.2,252.4" fill="#fff" fill-opacity="0.6" stroke="#f014f0" stroke-width="1.75"/>
<path d="M327.4,223.3 L350.2,216.8 L367.3,213.2 L389.8,207 L411,202.5 L445.2,196.3 L470.7,196.3 L505.6,201.1" fill="none" stroke="#128a12" stroke-width="1.3" stroke-dasharray="1.3,1.3"/>
<polygon points="331.3,223.3 324.8,219.5 324.8,227.1" fill="#fff" fill-opacity="0.6" stroke="#128a12" stroke-width="1.75"/>
<polygon points="354.2,216.8 347.6,213 347.6,220.6" fill="#fff" fill-opacity="0.6" stroke="#128a12" stroke-width="1.75"/>
<polygon points="371.3,213.2 364.7,209.4 364.7,217" fill="#fff" fill-opacity="0.6" stroke="#128a12" stroke-width="1.75"/>
<polygon points="393.7,207 387.1,203.2 387.1,210.8" fill="#fff" fill-opacity="0.6" stroke="#128a12" stroke-width="1.75"/>
<polygon points="414.9,202.5 408.3,198.7 408.3,206.3" fill="#fff" fill-opacity="0.6" stroke="#128a12" stroke-width="1.75"/>
<polygon points="449.1,196.3 442.6,192.5 442.6,200.1" fill="#fff" fill-opacity="0.6" stroke="#128a12" stroke-width="1.75"/>
<polygon points="474.6,196.3 468,192.5 468,200.1" fill="#fff" fill-opacity="0.6" stroke="#128a12" stroke-width="1.75"/>
<polygon points="509.5,201.1 503,197.3 503,204.9" fill="#fff" fill-opacity="0.6" stroke="#128a12" stroke-width="1.75"/>
<rect x="308.6" y="156" width="226.4" height="182.6" fill="none" stroke="#555" stroke-width="1.3"/>
<path d="M308.6,338.6 h-2 M308.6,325.6 h-3 M308.6,312.5 h-2 M308.6,299.5 h-3 M308.6,286.4 h-2 M308.6,273.4 h-3 M308.6,260.3 h-2 M308.6,247.3 h-3 M308.6,234.3 h-2 M308.6,221.2 h-3 M308.6,208.2 h-2 M308.6,195.1 h-3 M308.6,182.1 h-2 M308.6,169 h-3 M308.6,156 h-2 M309.6,338.6 v2 M327.4,338.6 v3 M345.2,338.6 v2 M363,338.6 v3 M380.9,338.6 v2 M398.7,338.6 v3 M416.5,338.6 v2 M434.3,338.6 v3 M452.1,338.6 v2 M470,338.6 v3 M487.8,338.6 v2 M505.6,338.6 v3 M523.4,338.6 v2" stroke="#3a3a3a" stroke-width="0.9" fill="none"/>
<text x="302.3" y="171.7" font-family="Liberation Sans" font-size="7.6" font-weight="normal" fill="#222" text-anchor="end" stroke="#222" stroke-width="0.15">300</text>
<text x="302.3" y="197.8" font-family="Liberation Sans" font-size="7.6" font-weight="normal" fill="#222" text-anchor="end" stroke="#222" stroke-width="0.15">200</text>
<text x="302.3" y="223.9" font-family="Liberation Sans" font-size="7.6" font-weight="normal" fill="#222" text-anchor="end" stroke="#222" stroke-width="0.15">100</text>
<text x="302.3" y="250" font-family="Liberation Sans" font-size="7.6" font-weight="normal" fill="#222" text-anchor="end" stroke="#222" stroke-width="0.15">0</text>
<text x="302.3" y="276.1" font-family="Liberation Sans" font-size="7.6" font-weight="normal" fill="#222" text-anchor="end" stroke="#222" stroke-width="0.15">-100</text>
<text x="302.3" y="302.2" font-family="Liberation Sans" font-size="7.6" font-weight="normal" fill="#222" text-anchor="end" stroke="#222" stroke-width="0.15">-200</text>
<text x="302.3" y="328.3" font-family="Liberation Sans" font-size="7.6" font-weight="normal" fill="#222" text-anchor="end" stroke="#222" stroke-width="0.15">-300</text>
<text x="327.4" y="350.6" font-family="Liberation Sans" font-size="7.6" font-weight="normal" fill="#222" text-anchor="middle" stroke="#222" stroke-width="0.15">0.0</text>
<text x="363" y="350.6" font-family="Liberation Sans" font-size="7.6" font-weight="normal" fill="#222" text-anchor="middle" stroke="#222" stroke-width="0.15">0.2</text>
<text x="398.7" y="350.6" font-family="Liberation Sans" font-size="7.6" font-weight="normal" fill="#222" text-anchor="middle" stroke="#222" stroke-width="0.15">0.4</text>
<text x="434.3" y="350.6" font-family="Liberation Sans" font-size="7.6" font-weight="normal" fill="#222" text-anchor="middle" stroke="#222" stroke-width="0.15">0.6</text>
<text x="470" y="350.6" font-family="Liberation Sans" font-size="7.6" font-weight="normal" fill="#222" text-anchor="middle" stroke="#222" stroke-width="0.15">0.8</text>
<text x="505.6" y="350.6" font-family="Liberation Sans" font-size="7.6" font-weight="normal" fill="#222" text-anchor="middle" stroke="#222" stroke-width="0.15">1.0</text>
<text x="329.9" y="153.6" font-family="Liberation Serif" font-size="9.6" font-weight="bold" fill="#000" text-anchor="middle">inside</text>
<text x="505.6" y="153.6" font-family="Liberation Serif" font-size="9.6" font-weight="bold" fill="#000" text-anchor="middle">outside</text>
<text x="310.2" y="166.6" font-family="Liberation Serif" font-size="11.5" font-weight="bold" fill="#111" text-anchor="start">(d)</text>
<text x="154.8" y="363.6" font-family="Liberation Sans" font-size="9.9" font-weight="bold" fill="#111" text-anchor="middle" textLength="148.4" lengthAdjust="spacingAndGlyphs">Normalized distance along pathA</text>
<text x="422" y="366.3" font-family="Liberation Sans" font-size="9.9" font-weight="bold" fill="#111" text-anchor="middle" textLength="148.7" lengthAdjust="spacingAndGlyphs">Normalized distance along pathB</text>
<text x="0" y="0" font-family="Liberation Sans" font-size="9.8" font-weight="bold" fill="#111" text-anchor="middle" textLength="54" lengthAdjust="spacingAndGlyphs" transform="translate(18.7,244.7) rotate(-90)">Stress(MPa)</text>
<text x="0" y="0" font-family="Liberation Sans" font-size="9.8" font-weight="bold" fill="#111" text-anchor="middle" textLength="56" lengthAdjust="spacingAndGlyphs" transform="translate(285.2,246.2) rotate(-90)">Stress(MPa)</text>
<rect x="63.6" y="323.3" width="68" height="11.3" fill="#fff" stroke="#2f7fc8" stroke-width="1.1"/><text x="97.6" y="331.6" font-family="Liberation Serif" font-size="7.9" font-weight="bold" fill="#1a56a0" text-anchor="middle" textLength="60" lengthAdjust="spacingAndGlyphs" stroke="#1a56a0" stroke-width="0.2">316 Stainless Steel</text>
<rect x="334.7" y="323.5" width="40.4" height="12.5" fill="#fff" stroke="#2f7fc8" stroke-width="1.1"/><text x="354.9" y="333" font-family="Liberation Serif" font-size="7.9" font-weight="bold" fill="#1a56a0" text-anchor="middle" textLength="33" lengthAdjust="spacingAndGlyphs" stroke="#1a56a0" stroke-width="0.2">Zircaloy-4</text>
<rect x="179.2" y="265" width="86.4" height="69.2" fill="#fff" stroke="#777" stroke-width="0.9"/>
<line x1="181" y1="268.9" x2="194" y2="268.9" stroke="#f01414" stroke-width="1.2" stroke-dasharray="1.2,1.2"/>
<polygon points="187.5,265.6 190.7,271.1 184.3,271.1" fill="#fff" fill-opacity="0.6" stroke="#f01414" stroke-width="1.75"/>
<text x="195.4" y="270.8" font-family="Liberation Sans" font-size="6.0" font-weight="normal" fill="#111" text-anchor="start" textLength="60.5" lengthAdjust="spacingAndGlyphs" stroke="#111" stroke-width="0.18">NAFEMS_IP=80MPa_<tspan font-weight="bold" font-style="italic">σ</tspan><tspan font-size="70%" dy="1">r</tspan></text>
<line x1="181" y1="277.3" x2="194" y2="277.3" stroke="#1414f0" stroke-width="1.2" stroke-dasharray="1.2,1.2"/>
<polygon points="187.5,280.6 190.7,275.1 184.3,275.1" fill="#fff" fill-opacity="0.6" stroke="#1414f0" stroke-width="1.75"/>
<text x="195.4" y="279.2" font-family="Liberation Sans" font-size="6.0" font-weight="normal" fill="#111" text-anchor="start" textLength="61" lengthAdjust="spacingAndGlyphs" stroke="#111" stroke-width="0.18">NAFEMS_IP=80MPa_<tspan font-weight="bold" font-style="italic">σ</tspan><tspan font-size="70%" dy="1">θ</tspan></text>
<line x1="181" y1="286.3" x2="194" y2="286.3" stroke="#f014f0" stroke-width="1.2" stroke-dasharray="1.2,1.2"/>
<polygon points="184.2,286.3 189.7,283.1 189.7,289.5" fill="#fff" fill-opacity="0.6" stroke="#f014f0" stroke-width="1.75"/>
<text x="195.4" y="288.2" font-family="Liberation Sans" font-size="6.0" font-weight="normal" fill="#111" text-anchor="start" textLength="62.9" lengthAdjust="spacingAndGlyphs" stroke="#111" stroke-width="0.18">NAFEMS_IP=160MPa_<tspan font-weight="bold" font-style="italic">σ</tspan><tspan font-size="70%" dy="1">r</tspan></text>
<line x1="181" y1="295.2" x2="194" y2="295.2" stroke="#128a12" stroke-width="1.2" stroke-dasharray="1.2,1.2"/>
<polygon points="190.8,295.2 185.3,292 185.3,298.4" fill="#fff" fill-opacity="0.6" stroke="#128a12" stroke-width="1.75"/>
<text x="195.4" y="297.1" font-family="Liberation Sans" font-size="6.0" font-weight="normal" fill="#111" text-anchor="start" textLength="63.6" lengthAdjust="spacingAndGlyphs" stroke="#111" stroke-width="0.18">NAFEMS_IP=160MPa_<tspan font-weight="bold" font-style="italic">σ</tspan><tspan font-size="70%" dy="1">θ</tspan></text>
<line x1="181" y1="303.7" x2="194" y2="303.7" stroke="#f01414" stroke-width="2.2"/>
<text x="195.4" y="305.6" font-family="Liberation Sans" font-size="6.0" font-weight="normal" fill="#111" text-anchor="start" textLength="67.8" lengthAdjust="spacingAndGlyphs" stroke="#111" stroke-width="0.18">316ssModel_IP=100MPa_<tspan font-weight="bold" font-style="italic">σ</tspan><tspan font-size="70%" dy="1">r</tspan></text>
<line x1="181" y1="312.2" x2="194" y2="312.2" stroke="#1414f0" stroke-width="2.2"/>
<text x="195.4" y="314.1" font-family="Liberation Sans" font-size="6.0" font-weight="normal" fill="#111" text-anchor="start" textLength="68.5" lengthAdjust="spacingAndGlyphs" stroke="#111" stroke-width="0.18">316ssModel_IP=100MPa_<tspan font-weight="bold" font-style="italic">σ</tspan><tspan font-size="70%" dy="1">θ</tspan></text>
<line x1="181" y1="320.9" x2="194" y2="320.9" stroke="#f014f0" stroke-width="2.2"/>
<text x="195.4" y="322.8" font-family="Liberation Sans" font-size="6.0" font-weight="normal" fill="#111" text-anchor="start" textLength="67.8" lengthAdjust="spacingAndGlyphs" stroke="#111" stroke-width="0.18">316ssModel_IP=200MPa_<tspan font-weight="bold" font-style="italic">σ</tspan><tspan font-size="70%" dy="1">r</tspan></text>
<line x1="181" y1="329.4" x2="194" y2="329.4" stroke="#128a12" stroke-width="2.2"/>
<text x="195.4" y="331.3" font-family="Liberation Sans" font-size="6.0" font-weight="normal" fill="#111" text-anchor="start" textLength="68.5" lengthAdjust="spacingAndGlyphs" stroke="#111" stroke-width="0.18">316ssModel_IP=200MPa_<tspan font-weight="bold" font-style="italic">σ</tspan><tspan font-size="70%" dy="1">θ</tspan></text>
<rect x="454" y="262.6" width="80.3" height="73.2" fill="#fff" stroke="#777" stroke-width="0.9"/>
<line x1="455" y1="267" x2="469" y2="267" stroke="#f01414" stroke-width="1.2" stroke-dasharray="1.2,1.2"/>
<polygon points="462,263.7 465.2,269.2 458.8,269.2" fill="#fff" fill-opacity="0.6" stroke="#f01414" stroke-width="1.75"/>
<text x="470.3" y="268.9" font-family="Liberation Sans" font-size="5.6" font-weight="normal" fill="#111" text-anchor="start" textLength="55" lengthAdjust="spacingAndGlyphs" stroke="#111" stroke-width="0.18">NAFEMS_IP=80MPa_<tspan font-weight="bold" font-style="italic">σ</tspan><tspan font-size="70%" dy="1">r</tspan></text>
<line x1="455" y1="275.9" x2="469" y2="275.9" stroke="#1414f0" stroke-width="1.2" stroke-dasharray="1.2,1.2"/>
<polygon points="462,279.2 465.2,273.7 458.8,273.7" fill="#fff" fill-opacity="0.6" stroke="#1414f0" stroke-width="1.75"/>
<text x="470.3" y="277.8" font-family="Liberation Sans" font-size="5.6" font-weight="normal" fill="#111" text-anchor="start" textLength="55" lengthAdjust="spacingAndGlyphs" stroke="#111" stroke-width="0.18">NAFEMS_IP=80MPa_<tspan font-weight="bold" font-style="italic">σ</tspan><tspan font-size="70%" dy="1">θ</tspan></text>
<line x1="455" y1="285.3" x2="469" y2="285.3" stroke="#f014f0" stroke-width="1.2" stroke-dasharray="1.2,1.2"/>
<polygon points="458.7,285.3 464.2,282.1 464.2,288.5" fill="#fff" fill-opacity="0.6" stroke="#f014f0" stroke-width="1.75"/>
<text x="470.3" y="287.2" font-family="Liberation Sans" font-size="5.6" font-weight="normal" fill="#111" text-anchor="start" textLength="57" lengthAdjust="spacingAndGlyphs" stroke="#111" stroke-width="0.18">NAFEMS_IP=160MPa_<tspan font-weight="bold" font-style="italic">σ</tspan><tspan font-size="70%" dy="1">r</tspan></text>
<line x1="455" y1="294.7" x2="469" y2="294.7" stroke="#128a12" stroke-width="1.2" stroke-dasharray="1.2,1.2"/>
<polygon points="465.3,294.7 459.8,291.5 459.8,297.9" fill="#fff" fill-opacity="0.6" stroke="#128a12" stroke-width="1.75"/>
<text x="470.3" y="296.6" font-family="Liberation Sans" font-size="5.6" font-weight="normal" fill="#111" text-anchor="start" textLength="57.3" lengthAdjust="spacingAndGlyphs" stroke="#111" stroke-width="0.18">NAFEMS_IP=160MPa_<tspan font-weight="bold" font-style="italic">σ</tspan><tspan font-size="70%" dy="1">θ</tspan></text>
<line x1="455" y1="304.4" x2="469" y2="304.4" stroke="#f01414" stroke-width="2.2"/>
<text x="470.3" y="306.3" font-family="Liberation Sans" font-size="5.6" font-weight="normal" fill="#111" text-anchor="start" textLength="60" lengthAdjust="spacingAndGlyphs" stroke="#111" stroke-width="0.18">Zrly4Model_IP=150MPa_<tspan font-weight="bold" font-style="italic">σ</tspan><tspan font-size="70%" dy="1">r</tspan></text>
<line x1="455" y1="313.6" x2="469" y2="313.6" stroke="#1414f0" stroke-width="2.2"/>
<text x="470.3" y="315.5" font-family="Liberation Sans" font-size="5.6" font-weight="normal" fill="#111" text-anchor="start" textLength="60.5" lengthAdjust="spacingAndGlyphs" stroke="#111" stroke-width="0.18">Zrly4Model_IP=150MPa_<tspan font-weight="bold" font-style="italic">σ</tspan><tspan font-size="70%" dy="1">θ</tspan></text>
<line x1="455" y1="322.5" x2="469" y2="322.5" stroke="#f014f0" stroke-width="2.2"/>
<text x="470.3" y="324.4" font-family="Liberation Sans" font-size="5.6" font-weight="normal" fill="#111" text-anchor="start" textLength="60" lengthAdjust="spacingAndGlyphs" stroke="#111" stroke-width="0.18">Zrly4Model_IP=300MPa_<tspan font-weight="bold" font-style="italic">σ</tspan><tspan font-size="70%" dy="1">r</tspan></text>
<line x1="455" y1="332.2" x2="469" y2="332.2" stroke="#128a12" stroke-width="2.2"/>
<text x="470.3" y="334.1" font-family="Liberation Sans" font-size="5.6" font-weight="normal" fill="#111" text-anchor="start" textLength="61" lengthAdjust="spacingAndGlyphs" stroke="#111" stroke-width="0.18">Zrly4Model_IP=300MPa_<tspan font-weight="bold" font-style="italic">σ</tspan><tspan font-size="70%" dy="1">θ</tspan></text>
</svg></body></html>
